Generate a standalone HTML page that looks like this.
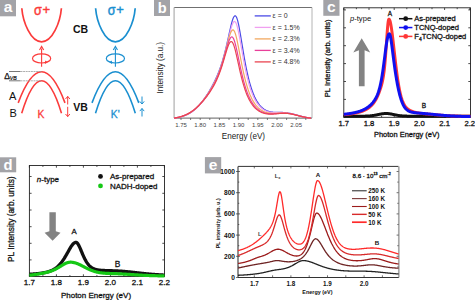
<!DOCTYPE html>
<html><head><meta charset="utf-8"><style>
html,body{margin:0;padding:0;background:#fff;width:475px;height:300px;overflow:hidden}
svg{display:block}
text{font-family:"Liberation Sans",sans-serif}
.h{stroke:#111;stroke-width:0.28px}
</style></head><body>
<svg width="475" height="300" viewBox="0 0 475 300">
<rect width="475" height="300" fill="#fff"/>
<rect x="0" y="0" width="16" height="16.3" fill="#a3a3a7"/>
<text x="8" y="12.4" font-size="15.5" fill="#fff" font-weight="bold" text-anchor="middle"  >a</text>
<path d="M21.8,8.3 C22.900000000000002,22 30.6,41.8 41.6,41.8 C52.6,41.8 60.3,22 61.400000000000006,8.3" fill="none" stroke="#fb3b3b" stroke-width="1.7"/>
<text x="34.0" y="14.9" font-size="14.5" fill="#fb3b3b" font-weight="normal" text-anchor="start" textLength="7.8" lengthAdjust="spacingAndGlyphs" stroke="#fb3b3b" stroke-width="0.45" >σ</text>
<text x="42.4" y="14.0" font-size="13" fill="#fb3b3b" font-weight="normal" text-anchor="start" stroke="#fb3b3b" stroke-width="0.4" >+</text>
<line x1="41.6" y1="48.5" x2="41.6" y2="66.8" stroke="#fb3b3b" stroke-width="1.1"/>
<path d="M39.5,50 L41.6,46.4 L43.7,50" fill="none" stroke="#fb3b3b" stroke-width="1.1"/>
<ellipse cx="41.6" cy="58.4" rx="9.1" ry="4.6" fill="none" stroke="#fb3b3b" stroke-width="1.2"/>
<path d="M45.1,60.6 L47.800000000000004,62.3 L45.1,64" fill="#fb3b3b"/>
<path d="M18.200000000000003,102.9 Q41.6,40.7 65.0,102.9" fill="none" stroke="#fb3b3b" stroke-width="1.6"/>
<path d="M21.700000000000003,113.3 Q41.6,48.3 61.5,113.3" fill="none" stroke="#fb3b3b" stroke-width="1.6"/>
<path d="M95.60000000000001,8.3 C96.7,22 104.4,41.8 115.4,41.8 C126.4,41.8 134.1,22 135.20000000000002,8.3" fill="none" stroke="#1a8fd0" stroke-width="1.7"/>
<text x="107.80000000000001" y="14.9" font-size="14.5" fill="#1a8fd0" font-weight="normal" text-anchor="start" textLength="7.8" lengthAdjust="spacingAndGlyphs" stroke="#1a8fd0" stroke-width="0.45" >σ</text>
<text x="116.2" y="14.0" font-size="13" fill="#1a8fd0" font-weight="normal" text-anchor="start" stroke="#1a8fd0" stroke-width="0.4" >+</text>
<line x1="115.4" y1="48.5" x2="115.4" y2="66.8" stroke="#1a8fd0" stroke-width="1.1"/>
<path d="M113.30000000000001,50 L115.4,46.4 L117.5,50" fill="none" stroke="#1a8fd0" stroke-width="1.1"/>
<ellipse cx="115.4" cy="58.4" rx="9.1" ry="4.6" fill="none" stroke="#1a8fd0" stroke-width="1.2"/>
<path d="M111.9,60.6 L109.2,62.3 L111.9,64" fill="#1a8fd0"/>
<path d="M92.0,102.9 Q115.4,40.7 138.8,102.9" fill="none" stroke="#1a8fd0" stroke-width="1.6"/>
<path d="M95.5,113.3 Q115.4,48.3 135.3,113.3" fill="none" stroke="#1a8fd0" stroke-width="1.6"/>
<line x1="9" y1="71.5" x2="20.5" y2="71.5" stroke="#555" stroke-width="0.8"/>
<line x1="20.5" y1="71.5" x2="41.8" y2="71.5" stroke="#9a9a9a" stroke-width="0.8" stroke-dasharray="2,0.6"/>
<line x1="9" y1="80.8" x2="20.5" y2="80.8" stroke="#555" stroke-width="0.8"/>
<line x1="20.5" y1="80.8" x2="41.8" y2="80.8" stroke="#9a9a9a" stroke-width="0.8" stroke-dasharray="2,0.6"/>
<text x="4.2" y="78.6" font-size="8.4" fill="#111" font-weight="normal" text-anchor="start" stroke="#111" stroke-width="0.25" >Δ</text>
<text x="9.7" y="79.8" font-size="5.2" fill="#111" font-weight="normal" text-anchor="start" stroke="#111" stroke-width="0.2" font-style="italic">VB</text>
<text x="9.0" y="100.3" font-size="11" fill="#111" font-weight="normal" text-anchor="start"  >A</text>
<text x="9.4" y="116.9" font-size="11" fill="#111" font-weight="normal" text-anchor="start"  >B</text>
<text x="37.5" y="118.4" font-size="10.3" fill="#fb3b3b" font-weight="normal" text-anchor="start" stroke="#fb3b3b" stroke-width="0.3" >K</text>
<text x="110.8" y="118.1" font-size="10.3" fill="#1a8fd0" font-weight="normal" text-anchor="start" stroke="#1a8fd0" stroke-width="0.3" >K'</text>
<text x="73" y="32.9" font-size="10.5" fill="#111" font-weight="bold" text-anchor="start"  >CB</text>
<text x="73.2" y="111.4" font-size="10.5" fill="#111" font-weight="bold" text-anchor="start"  >VB</text>
<line x1="67.7" y1="104.5" x2="67.7" y2="96.4" stroke="#fb3b3b" stroke-width="1"/>
<path d="M65.5,99.0 L67.7,96.4 L69.9,99.0" fill="none" stroke="#fb3b3b" stroke-width="1"/>
<line x1="67.7" y1="106.8" x2="67.7" y2="116.6" stroke="#fb3b3b" stroke-width="1"/>
<path d="M65.5,114.0 L67.7,116.6 L69.9,114.0" fill="none" stroke="#fb3b3b" stroke-width="1"/>
<line x1="142" y1="96.5" x2="142" y2="104" stroke="#1a8fd0" stroke-width="1"/>
<path d="M139.8,101.4 L142,104 L144.2,101.4" fill="none" stroke="#1a8fd0" stroke-width="1"/>
<line x1="142" y1="116.5" x2="142" y2="108.5" stroke="#1a8fd0" stroke-width="1"/>
<path d="M139.8,111.1 L142,108.5 L144.2,111.1" fill="none" stroke="#1a8fd0" stroke-width="1"/>
<rect x="154" y="0" width="16" height="16" fill="#a3a3a7"/>
<text x="162.1" y="13.1" font-size="14.6" fill="#fff" font-weight="bold" text-anchor="middle"  >b</text>
<line x1="174.1" y1="7.5" x2="312" y2="7.5" stroke="#707070" stroke-width="1"/>
<line x1="174.1" y1="7.5" x2="174.1" y2="118.1" stroke="#b4b4b4" stroke-width="1.3"/>
<line x1="312" y1="7.5" x2="312" y2="118.1" stroke="#b4b4b4" stroke-width="1"/>
<line x1="174.1" y1="118.1" x2="312" y2="118.1" stroke="#606060" stroke-width="1"/>
<line x1="181.00" y1="118.1" x2="181.00" y2="120" stroke="#555" stroke-width="0.8"/>
<line x1="190.60" y1="118.1" x2="190.60" y2="120" stroke="#555" stroke-width="0.8"/>
<line x1="200.20" y1="118.1" x2="200.20" y2="120" stroke="#555" stroke-width="0.8"/>
<line x1="209.80" y1="118.1" x2="209.80" y2="120" stroke="#555" stroke-width="0.8"/>
<line x1="219.40" y1="118.1" x2="219.40" y2="120" stroke="#555" stroke-width="0.8"/>
<line x1="229.00" y1="118.1" x2="229.00" y2="120" stroke="#555" stroke-width="0.8"/>
<line x1="238.60" y1="118.1" x2="238.60" y2="120" stroke="#555" stroke-width="0.8"/>
<line x1="248.20" y1="118.1" x2="248.20" y2="120" stroke="#555" stroke-width="0.8"/>
<line x1="257.80" y1="118.1" x2="257.80" y2="120" stroke="#555" stroke-width="0.8"/>
<line x1="267.40" y1="118.1" x2="267.40" y2="120" stroke="#555" stroke-width="0.8"/>
<line x1="277.00" y1="118.1" x2="277.00" y2="120" stroke="#555" stroke-width="0.8"/>
<line x1="286.60" y1="118.1" x2="286.60" y2="120" stroke="#555" stroke-width="0.8"/>
<line x1="296.20" y1="118.1" x2="296.20" y2="120" stroke="#555" stroke-width="0.8"/>
<line x1="305.80" y1="118.1" x2="305.80" y2="120" stroke="#555" stroke-width="0.8"/>
<text x="181.00" y="127" font-size="6" fill="#444" font-weight="normal" text-anchor="middle"  >1.75</text>
<text x="200.20" y="127" font-size="6" fill="#444" font-weight="normal" text-anchor="middle"  >1.80</text>
<text x="219.40" y="127" font-size="6" fill="#444" font-weight="normal" text-anchor="middle"  >1.85</text>
<text x="238.60" y="127" font-size="6" fill="#444" font-weight="normal" text-anchor="middle"  >1.90</text>
<text x="257.80" y="127" font-size="6" fill="#444" font-weight="normal" text-anchor="middle"  >1.95</text>
<text x="277.00" y="127" font-size="6" fill="#444" font-weight="normal" text-anchor="middle"  >2.00</text>
<text x="296.20" y="127" font-size="6" fill="#444" font-weight="normal" text-anchor="middle"  >2.05</text>
<text x="243.4" y="138.9" font-size="8.2" fill="#222" font-weight="normal" text-anchor="middle" textLength="43.3" lengthAdjust="spacingAndGlyphs"  >Energy (eV)</text>
<text transform="translate(162.6,67.8) rotate(-90)" x="0" y="0" font-size="8.3" fill="#222" text-anchor="middle" textLength="51.5" lengthAdjust="spacingAndGlyphs">Intensity (a.u.)</text>
<path d="M174.10,118.10 L174.56,118.04 L175.02,117.97 L175.47,117.90 L175.93,117.83 L176.39,117.75 L176.85,117.67 L177.31,117.59 L177.76,117.50 L178.22,117.41 L178.68,117.32 L179.14,117.22 L179.59,117.11 L180.05,117.00 L180.51,116.89 L180.97,116.77 L181.43,116.64 L181.88,116.51 L182.34,116.37 L182.80,116.23 L183.26,116.08 L183.72,115.93 L184.17,115.76 L184.63,115.59 L185.09,115.42 L185.55,115.23 L186.00,115.04 L186.46,114.84 L186.92,114.63 L187.38,114.41 L187.84,114.18 L188.29,113.95 L188.75,113.70 L189.21,113.45 L189.67,113.19 L190.13,112.91 L190.58,112.63 L191.04,112.33 L191.50,112.03 L191.96,111.71 L192.41,111.38 L192.87,111.05 L193.33,110.70 L193.79,110.34 L194.25,109.97 L194.70,109.58 L195.16,109.19 L195.62,108.78 L196.08,108.36 L196.54,107.93 L196.99,107.48 L197.45,107.03 L197.91,106.56 L198.37,106.08 L198.82,105.58 L199.28,105.08 L199.74,104.56 L200.20,104.03 L200.66,103.49 L201.11,102.94 L201.57,102.37 L202.03,101.79 L202.49,101.20 L202.95,100.60 L203.40,99.99 L203.86,99.36 L204.32,98.72 L204.78,98.08 L205.23,97.42 L205.69,96.74 L206.15,96.06 L206.61,95.37 L207.07,94.66 L207.52,93.95 L207.98,93.22 L208.44,92.48 L208.90,91.73 L209.36,90.97 L209.81,90.19 L210.27,89.40 L210.73,88.60 L211.19,87.79 L211.64,86.96 L212.10,86.12 L212.56,85.27 L213.02,84.40 L213.48,83.51 L213.93,82.60 L214.39,81.68 L214.85,80.74 L215.31,79.78 L215.77,78.79 L216.22,77.79 L216.68,76.76 L217.14,75.70 L217.60,74.61 L218.05,73.50 L218.51,72.35 L218.97,71.17 L219.43,69.96 L219.89,68.71 L220.34,67.42 L220.80,66.09 L221.26,64.72 L221.72,63.30 L222.18,61.84 L222.63,60.33 L223.09,58.77 L223.55,57.16 L224.01,55.49 L224.46,53.78 L224.92,52.01 L225.38,50.19 L225.84,48.32 L226.30,46.40 L226.75,44.44 L227.21,42.44 L227.67,40.40 L228.13,38.34 L228.59,36.26 L229.04,34.17 L229.50,32.09 L229.96,30.04 L230.42,28.04 L230.87,26.09 L231.33,24.24 L231.79,22.51 L232.25,20.91 L232.71,19.49 L233.16,18.26 L233.62,17.25 L234.08,16.50 L234.54,16.01 L235.00,15.80 L235.45,15.90 L235.91,16.29 L236.37,17.00 L236.83,18.03 L237.28,19.35 L237.74,20.94 L238.20,22.79 L238.66,24.86 L239.12,27.13 L239.57,29.55 L240.03,32.11 L240.49,34.77 L240.95,37.49 L241.41,40.27 L241.86,43.06 L242.32,45.86 L242.78,48.64 L243.24,51.39 L243.69,54.09 L244.15,56.74 L244.61,59.32 L245.07,61.83 L245.53,64.27 L245.98,66.63 L246.44,68.91 L246.90,71.11 L247.36,73.22 L247.82,75.25 L248.27,77.20 L248.73,79.07 L249.19,80.86 L249.65,82.57 L250.10,84.21 L250.56,85.77 L251.02,87.26 L251.48,88.68 L251.94,90.03 L252.39,91.32 L252.85,92.55 L253.31,93.72 L253.77,94.83 L254.23,95.89 L254.68,96.90 L255.14,97.85 L255.60,98.76 L256.06,99.62 L256.51,100.44 L256.97,101.21 L257.43,101.95 L257.89,102.64 L258.35,103.31 L258.80,103.93 L259.26,104.52 L259.72,105.09 L260.18,105.62 L260.64,106.12 L261.09,106.59 L261.55,107.04 L262.01,107.46 L262.47,107.86 L262.92,108.24 L263.38,108.59 L263.84,108.92 L264.30,109.23 L264.76,109.52 L265.21,109.79 L265.67,110.05 L266.13,110.29 L266.59,110.51 L267.05,110.71 L267.50,110.90 L267.96,111.07 L268.42,111.23 L268.88,111.38 L269.33,111.51 L269.79,111.64 L270.25,111.75 L270.71,111.84 L271.17,111.93 L271.62,112.01 L272.08,112.08 L272.54,112.14 L273.00,112.20 L273.46,112.24 L273.91,112.28 L274.37,112.31 L274.83,112.34 L275.29,112.36 L275.74,112.38 L276.20,112.39 L276.66,112.40 L277.12,112.41 L277.58,112.41 L278.03,112.42 L278.49,112.42 L278.95,112.42 L279.41,112.42 L279.87,112.43 L280.32,112.43 L280.78,112.43 L281.24,112.44 L281.70,112.45 L282.15,112.46 L282.61,112.47 L283.07,112.49 L283.53,112.51 L283.99,112.54 L284.44,112.57 L284.90,112.60 L285.36,112.64 L285.82,112.69 L286.28,112.74 L286.73,112.79 L287.19,112.85 L287.65,112.91 L288.11,112.98 L288.56,113.06 L289.02,113.13 L289.48,113.22 L289.94,113.31 L290.40,113.40 L290.85,113.50 L291.31,113.60 L291.77,113.71 L292.23,113.82 L292.69,113.93 L293.14,114.05 L293.60,114.16 L294.06,114.29 L294.52,114.41 L294.97,114.54 L295.43,114.66 L295.89,114.79 L296.35,114.92 L296.81,115.05 L297.26,115.18 L297.72,115.31 L298.18,115.44 L298.64,115.57 L299.10,115.70 L299.55,115.83 L300.01,115.95 L300.47,116.08 L300.93,116.20 L301.38,116.32 L301.84,116.44 L302.30,116.55 L302.76,116.67 L303.22,116.78 L303.67,116.88 L304.13,116.99 L304.59,117.09 L305.05,117.19 L305.51,117.28 L305.96,117.37 L306.42,117.46 L306.88,117.54 L307.34,117.63 L307.79,117.70 L308.25,117.78 L308.71,117.85 L309.17,117.92 L309.63,117.98 L310.08,118.05 L310.54,118.10 L311.00,118.10" fill="none" stroke="#4b4be6" stroke-width="1.2"/>
<path d="M174.10,118.10 L174.56,118.04 L175.02,117.97 L175.47,117.90 L175.93,117.83 L176.39,117.75 L176.85,117.67 L177.31,117.59 L177.76,117.50 L178.22,117.41 L178.68,117.31 L179.14,117.21 L179.59,117.11 L180.05,117.00 L180.51,116.88 L180.97,116.76 L181.43,116.64 L181.88,116.51 L182.34,116.37 L182.80,116.23 L183.26,116.08 L183.72,115.92 L184.17,115.76 L184.63,115.59 L185.09,115.41 L185.55,115.23 L186.00,115.04 L186.46,114.84 L186.92,114.63 L187.38,114.41 L187.84,114.19 L188.29,113.96 L188.75,113.71 L189.21,113.46 L189.67,113.20 L190.13,112.93 L190.58,112.65 L191.04,112.36 L191.50,112.05 L191.96,111.74 L192.41,111.42 L192.87,111.09 L193.33,110.74 L193.79,110.39 L194.25,110.02 L194.70,109.65 L195.16,109.26 L195.62,108.86 L196.08,108.45 L196.54,108.03 L196.99,107.59 L197.45,107.15 L197.91,106.69 L198.37,106.22 L198.82,105.74 L199.28,105.25 L199.74,104.74 L200.20,104.23 L200.66,103.70 L201.11,103.16 L201.57,102.62 L202.03,102.05 L202.49,101.48 L202.95,100.90 L203.40,100.31 L203.86,99.70 L204.32,99.09 L204.78,98.46 L205.23,97.82 L205.69,97.18 L206.15,96.52 L206.61,95.85 L207.07,95.17 L207.52,94.48 L207.98,93.78 L208.44,93.06 L208.90,92.34 L209.36,91.60 L209.81,90.86 L210.27,90.10 L210.73,89.33 L211.19,88.54 L211.64,87.74 L212.10,86.93 L212.56,86.10 L213.02,85.26 L213.48,84.40 L213.93,83.53 L214.39,82.63 L214.85,81.72 L215.31,80.78 L215.77,79.83 L216.22,78.84 L216.68,77.84 L217.14,76.81 L217.60,75.75 L218.05,74.66 L218.51,73.53 L218.97,72.38 L219.43,71.19 L219.89,69.96 L220.34,68.69 L220.80,67.39 L221.26,66.04 L221.72,64.64 L222.18,63.20 L222.63,61.72 L223.09,60.18 L223.55,58.60 L224.01,56.97 L224.46,55.28 L224.92,53.55 L225.38,51.77 L225.84,49.95 L226.30,48.08 L226.75,46.18 L227.21,44.25 L227.67,42.30 L228.13,40.33 L228.59,38.36 L229.04,36.40 L229.50,34.47 L229.96,32.59 L230.42,30.77 L230.87,29.05 L231.33,27.44 L231.79,25.97 L232.25,24.67 L232.71,23.56 L233.16,22.67 L233.62,22.02 L234.08,21.62 L234.54,21.50 L235.00,21.66 L235.45,22.11 L235.91,22.86 L236.37,23.90 L236.83,25.21 L237.28,26.78 L237.74,28.59 L238.20,30.59 L238.66,32.77 L239.12,35.10 L239.57,37.54 L240.03,40.07 L240.49,42.66 L240.95,45.29 L241.41,47.93 L241.86,50.57 L242.32,53.19 L242.78,55.78 L243.24,58.32 L243.69,60.80 L244.15,63.23 L244.61,65.58 L245.07,67.87 L245.53,70.08 L245.98,72.21 L246.44,74.27 L246.90,76.24 L247.36,78.14 L247.82,79.96 L248.27,81.71 L248.73,83.38 L249.19,84.98 L249.65,86.51 L250.10,87.97 L250.56,89.36 L251.02,90.69 L251.48,91.95 L251.94,93.15 L252.39,94.30 L252.85,95.39 L253.31,96.43 L253.77,97.42 L254.23,98.35 L254.68,99.24 L255.14,100.09 L255.60,100.89 L256.06,101.66 L256.51,102.38 L256.97,103.07 L257.43,103.72 L257.89,104.33 L258.35,104.92 L258.80,105.47 L259.26,105.99 L259.72,106.49 L260.18,106.96 L260.64,107.40 L261.09,107.82 L261.55,108.21 L262.01,108.58 L262.47,108.93 L262.92,109.26 L263.38,109.57 L263.84,109.86 L264.30,110.13 L264.76,110.38 L265.21,110.61 L265.67,110.83 L266.13,111.04 L266.59,111.23 L267.05,111.40 L267.50,111.56 L267.96,111.71 L268.42,111.84 L268.88,111.96 L269.33,112.07 L269.79,112.17 L270.25,112.26 L270.71,112.34 L271.17,112.40 L271.62,112.46 L272.08,112.52 L272.54,112.56 L273.00,112.60 L273.46,112.63 L273.91,112.65 L274.37,112.67 L274.83,112.68 L275.29,112.69 L275.74,112.69 L276.20,112.69 L276.66,112.69 L277.12,112.69 L277.58,112.68 L278.03,112.67 L278.49,112.67 L278.95,112.66 L279.41,112.65 L279.87,112.65 L280.32,112.64 L280.78,112.64 L281.24,112.64 L281.70,112.64 L282.15,112.64 L282.61,112.65 L283.07,112.66 L283.53,112.68 L283.99,112.70 L284.44,112.72 L284.90,112.75 L285.36,112.78 L285.82,112.82 L286.28,112.87 L286.73,112.91 L287.19,112.97 L287.65,113.03 L288.11,113.09 L288.56,113.16 L289.02,113.24 L289.48,113.32 L289.94,113.40 L290.40,113.49 L290.85,113.59 L291.31,113.69 L291.77,113.79 L292.23,113.89 L292.69,114.00 L293.14,114.12 L293.60,114.23 L294.06,114.35 L294.52,114.47 L294.97,114.60 L295.43,114.72 L295.89,114.85 L296.35,114.97 L296.81,115.10 L297.26,115.23 L297.72,115.36 L298.18,115.49 L298.64,115.61 L299.10,115.74 L299.55,115.87 L300.01,115.99 L300.47,116.11 L300.93,116.23 L301.38,116.35 L301.84,116.47 L302.30,116.58 L302.76,116.69 L303.22,116.80 L303.67,116.91 L304.13,117.01 L304.59,117.11 L305.05,117.20 L305.51,117.30 L305.96,117.39 L306.42,117.47 L306.88,117.56 L307.34,117.64 L307.79,117.71 L308.25,117.79 L308.71,117.86 L309.17,117.92 L309.63,117.99 L310.08,118.05 L310.54,118.10 L311.00,118.10" fill="none" stroke="#f0a0f0" stroke-width="1.2"/>
<path d="M174.10,118.10 L174.56,118.03 L175.02,117.96 L175.47,117.88 L175.93,117.80 L176.39,117.72 L176.85,117.64 L177.31,117.55 L177.76,117.45 L178.22,117.35 L178.68,117.25 L179.14,117.14 L179.59,117.03 L180.05,116.91 L180.51,116.79 L180.97,116.66 L181.43,116.52 L181.88,116.38 L182.34,116.24 L182.80,116.08 L183.26,115.92 L183.72,115.76 L184.17,115.59 L184.63,115.41 L185.09,115.22 L185.55,115.02 L186.00,114.82 L186.46,114.61 L186.92,114.39 L187.38,114.16 L187.84,113.93 L188.29,113.68 L188.75,113.43 L189.21,113.17 L189.67,112.90 L190.13,112.62 L190.58,112.32 L191.04,112.02 L191.50,111.71 L191.96,111.39 L192.41,111.06 L192.87,110.72 L193.33,110.37 L193.79,110.01 L194.25,109.64 L194.70,109.26 L195.16,108.86 L195.62,108.46 L196.08,108.05 L196.54,107.62 L196.99,107.19 L197.45,106.74 L197.91,106.29 L198.37,105.82 L198.82,105.34 L199.28,104.85 L199.74,104.36 L200.20,103.85 L200.66,103.33 L201.11,102.80 L201.57,102.26 L202.03,101.71 L202.49,101.15 L202.95,100.58 L203.40,100.01 L203.86,99.42 L204.32,98.82 L204.78,98.21 L205.23,97.59 L205.69,96.97 L206.15,96.33 L206.61,95.68 L207.07,95.02 L207.52,94.36 L207.98,93.68 L208.44,92.99 L208.90,92.29 L209.36,91.57 L209.81,90.85 L210.27,90.11 L210.73,89.36 L211.19,88.60 L211.64,87.82 L212.10,87.02 L212.56,86.21 L213.02,85.38 L213.48,84.54 L213.93,83.67 L214.39,82.78 L214.85,81.87 L215.31,80.94 L215.77,79.98 L216.22,79.00 L216.68,77.99 L217.14,76.94 L217.60,75.87 L218.05,74.76 L218.51,73.62 L218.97,72.44 L219.43,71.23 L219.89,69.97 L220.34,68.67 L220.80,67.33 L221.26,65.95 L221.72,64.52 L222.18,63.05 L222.63,61.53 L223.09,59.97 L223.55,58.36 L224.01,56.71 L224.46,55.02 L224.92,53.30 L225.38,51.54 L225.84,49.76 L226.30,47.97 L226.75,46.16 L227.21,44.37 L227.67,42.59 L228.13,40.84 L228.59,39.15 L229.04,37.53 L229.50,36.01 L229.96,34.60 L230.42,33.34 L230.87,32.24 L231.33,31.33 L231.79,30.62 L232.25,30.15 L232.71,29.92 L233.16,29.94 L233.62,30.23 L234.08,30.79 L234.54,31.61 L235.00,32.70 L235.45,34.03 L235.91,35.58 L236.37,37.33 L236.83,39.25 L237.28,41.32 L237.74,43.51 L238.20,45.78 L238.66,48.13 L239.12,50.52 L239.57,52.93 L240.03,55.35 L240.49,57.75 L240.95,60.13 L241.41,62.47 L241.86,64.77 L242.32,67.01 L242.78,69.20 L243.24,71.32 L243.69,73.37 L244.15,75.35 L244.61,77.26 L245.07,79.11 L245.53,80.88 L245.98,82.58 L246.44,84.20 L246.90,85.76 L247.36,87.26 L247.82,88.68 L248.27,90.05 L248.73,91.35 L249.19,92.59 L249.65,93.77 L250.10,94.90 L250.56,95.98 L251.02,97.00 L251.48,97.97 L251.94,98.90 L252.39,99.78 L252.85,100.61 L253.31,101.41 L253.77,102.16 L254.23,102.88 L254.68,103.56 L255.14,104.20 L255.60,104.82 L256.06,105.40 L256.51,105.95 L256.97,106.47 L257.43,106.96 L257.89,107.43 L258.35,107.88 L258.80,108.30 L259.26,108.69 L259.72,109.07 L260.18,109.42 L260.64,109.75 L261.09,110.07 L261.55,110.36 L262.01,110.64 L262.47,110.90 L262.92,111.14 L263.38,111.37 L263.84,111.58 L264.30,111.77 L264.76,111.96 L265.21,112.13 L265.67,112.28 L266.13,112.42 L266.59,112.55 L267.05,112.67 L267.50,112.78 L267.96,112.87 L268.42,112.96 L268.88,113.04 L269.33,113.10 L269.79,113.16 L270.25,113.21 L270.71,113.25 L271.17,113.28 L271.62,113.30 L272.08,113.32 L272.54,113.33 L273.00,113.34 L273.46,113.34 L273.91,113.33 L274.37,113.32 L274.83,113.31 L275.29,113.29 L275.74,113.27 L276.20,113.25 L276.66,113.23 L277.12,113.21 L277.58,113.18 L278.03,113.15 L278.49,113.13 L278.95,113.10 L279.41,113.08 L279.87,113.06 L280.32,113.04 L280.78,113.02 L281.24,113.00 L281.70,112.99 L282.15,112.98 L282.61,112.98 L283.07,112.98 L283.53,112.98 L283.99,112.99 L284.44,113.00 L284.90,113.02 L285.36,113.05 L285.82,113.08 L286.28,113.11 L286.73,113.15 L287.19,113.20 L287.65,113.25 L288.11,113.30 L288.56,113.37 L289.02,113.43 L289.48,113.51 L289.94,113.59 L290.40,113.67 L290.85,113.76 L291.31,113.85 L291.77,113.94 L292.23,114.05 L292.69,114.15 L293.14,114.26 L293.60,114.37 L294.06,114.48 L294.52,114.60 L294.97,114.71 L295.43,114.83 L295.89,114.96 L296.35,115.08 L296.81,115.20 L297.26,115.33 L297.72,115.45 L298.18,115.57 L298.64,115.70 L299.10,115.82 L299.55,115.94 L300.01,116.06 L300.47,116.18 L300.93,116.30 L301.38,116.41 L301.84,116.52 L302.30,116.63 L302.76,116.74 L303.22,116.85 L303.67,116.95 L304.13,117.05 L304.59,117.14 L305.05,117.24 L305.51,117.33 L305.96,117.41 L306.42,117.50 L306.88,117.58 L307.34,117.65 L307.79,117.73 L308.25,117.80 L308.71,117.87 L309.17,117.93 L309.63,117.99 L310.08,118.05 L310.54,118.10 L311.00,118.10" fill="none" stroke="#f2a860" stroke-width="1.2"/>
<path d="M174.10,118.10 L174.56,118.03 L175.02,117.95 L175.47,117.88 L175.93,117.79 L176.39,117.71 L176.85,117.62 L177.31,117.53 L177.76,117.43 L178.22,117.33 L178.68,117.22 L179.14,117.11 L179.59,116.99 L180.05,116.87 L180.51,116.74 L180.97,116.61 L181.43,116.47 L181.88,116.33 L182.34,116.18 L182.80,116.02 L183.26,115.86 L183.72,115.69 L184.17,115.52 L184.63,115.33 L185.09,115.14 L185.55,114.95 L186.00,114.74 L186.46,114.53 L186.92,114.31 L187.38,114.08 L187.84,113.84 L188.29,113.59 L188.75,113.34 L189.21,113.07 L189.67,112.80 L190.13,112.52 L190.58,112.23 L191.04,111.93 L191.50,111.62 L191.96,111.30 L192.41,110.98 L192.87,110.64 L193.33,110.29 L193.79,109.93 L194.25,109.57 L194.70,109.19 L195.16,108.81 L195.62,108.41 L196.08,108.00 L196.54,107.59 L196.99,107.16 L197.45,106.73 L197.91,106.28 L198.37,105.83 L198.82,105.37 L199.28,104.89 L199.74,104.41 L200.20,103.92 L200.66,103.42 L201.11,102.91 L201.57,102.39 L202.03,101.86 L202.49,101.32 L202.95,100.77 L203.40,100.22 L203.86,99.65 L204.32,99.08 L204.78,98.50 L205.23,97.91 L205.69,97.30 L206.15,96.69 L206.61,96.07 L207.07,95.44 L207.52,94.80 L207.98,94.15 L208.44,93.49 L208.90,92.82 L209.36,92.13 L209.81,91.43 L210.27,90.72 L210.73,90.00 L211.19,89.26 L211.64,88.50 L212.10,87.73 L212.56,86.94 L213.02,86.14 L213.48,85.31 L213.93,84.46 L214.39,83.59 L214.85,82.70 L215.31,81.78 L215.77,80.83 L216.22,79.86 L216.68,78.86 L217.14,77.82 L217.60,76.75 L218.05,75.65 L218.51,74.52 L218.97,73.34 L219.43,72.13 L219.89,70.88 L220.34,69.58 L220.80,68.25 L221.26,66.87 L221.72,65.45 L222.18,64.00 L222.63,62.50 L223.09,60.96 L223.55,59.39 L224.01,57.79 L224.46,56.16 L224.92,54.51 L225.38,52.85 L225.84,51.19 L226.30,49.54 L226.75,47.91 L227.21,46.32 L227.67,44.78 L228.13,43.33 L228.59,41.97 L229.04,40.72 L229.50,39.62 L229.96,38.67 L230.42,37.91 L230.87,37.36 L231.33,37.01 L231.79,36.90 L232.25,37.02 L232.71,37.39 L233.16,38.01 L233.62,38.88 L234.08,39.98 L234.54,41.29 L235.00,42.80 L235.45,44.49 L235.91,46.32 L236.37,48.27 L236.83,50.33 L237.28,52.46 L237.74,54.64 L238.20,56.85 L238.66,59.08 L239.12,61.30 L239.57,63.51 L240.03,65.69 L240.49,67.83 L240.95,69.93 L241.41,71.97 L241.86,73.96 L242.32,75.89 L242.78,77.75 L243.24,79.55 L243.69,81.29 L244.15,82.96 L244.61,84.56 L245.07,86.10 L245.53,87.57 L245.98,88.98 L246.44,90.33 L246.90,91.62 L247.36,92.86 L247.82,94.03 L248.27,95.15 L248.73,96.22 L249.19,97.24 L249.65,98.21 L250.10,99.13 L250.56,100.01 L251.02,100.85 L251.48,101.64 L251.94,102.39 L252.39,103.11 L252.85,103.79 L253.31,104.44 L253.77,105.05 L254.23,105.64 L254.68,106.19 L255.14,106.72 L255.60,107.21 L256.06,107.69 L256.51,108.13 L256.97,108.56 L257.43,108.96 L257.89,109.34 L258.35,109.70 L258.80,110.03 L259.26,110.35 L259.72,110.66 L260.18,110.94 L260.64,111.21 L261.09,111.46 L261.55,111.69 L262.01,111.91 L262.47,112.12 L262.92,112.31 L263.38,112.48 L263.84,112.65 L264.30,112.80 L264.76,112.94 L265.21,113.07 L265.67,113.18 L266.13,113.29 L266.59,113.38 L267.05,113.47 L267.50,113.54 L267.96,113.61 L268.42,113.66 L268.88,113.71 L269.33,113.75 L269.79,113.78 L270.25,113.80 L270.71,113.82 L271.17,113.83 L271.62,113.83 L272.08,113.83 L272.54,113.82 L273.00,113.81 L273.46,113.79 L273.91,113.77 L274.37,113.74 L274.83,113.71 L275.29,113.68 L275.74,113.65 L276.20,113.61 L276.66,113.57 L277.12,113.54 L277.58,113.50 L278.03,113.46 L278.49,113.43 L278.95,113.39 L279.41,113.35 L279.87,113.32 L280.32,113.29 L280.78,113.27 L281.24,113.24 L281.70,113.22 L282.15,113.20 L282.61,113.19 L283.07,113.18 L283.53,113.18 L283.99,113.18 L284.44,113.19 L284.90,113.20 L285.36,113.22 L285.82,113.24 L286.28,113.27 L286.73,113.31 L287.19,113.35 L287.65,113.39 L288.11,113.44 L288.56,113.50 L289.02,113.56 L289.48,113.63 L289.94,113.71 L290.40,113.78 L290.85,113.87 L291.31,113.96 L291.77,114.05 L292.23,114.14 L292.69,114.24 L293.14,114.35 L293.60,114.46 L294.06,114.57 L294.52,114.68 L294.97,114.79 L295.43,114.91 L295.89,115.03 L296.35,115.15 L296.81,115.27 L297.26,115.39 L297.72,115.51 L298.18,115.63 L298.64,115.75 L299.10,115.87 L299.55,115.99 L300.01,116.11 L300.47,116.22 L300.93,116.34 L301.38,116.45 L301.84,116.56 L302.30,116.67 L302.76,116.77 L303.22,116.88 L303.67,116.98 L304.13,117.07 L304.59,117.17 L305.05,117.26 L305.51,117.35 L305.96,117.43 L306.42,117.51 L306.88,117.59 L307.34,117.67 L307.79,117.74 L308.25,117.81 L308.71,117.87 L309.17,117.93 L309.63,117.99 L310.08,118.05 L310.54,118.10 L311.00,118.10" fill="none" stroke="#e8409a" stroke-width="1.2"/>
<path d="M174.10,118.10 L174.56,118.03 L175.02,117.95 L175.47,117.88 L175.93,117.79 L176.39,117.71 L176.85,117.62 L177.31,117.53 L177.76,117.43 L178.22,117.33 L178.68,117.22 L179.14,117.11 L179.59,116.99 L180.05,116.87 L180.51,116.74 L180.97,116.61 L181.43,116.47 L181.88,116.33 L182.34,116.18 L182.80,116.03 L183.26,115.87 L183.72,115.70 L184.17,115.52 L184.63,115.34 L185.09,115.15 L185.55,114.96 L186.00,114.75 L186.46,114.54 L186.92,114.32 L187.38,114.10 L187.84,113.86 L188.29,113.62 L188.75,113.37 L189.21,113.11 L189.67,112.84 L190.13,112.56 L190.58,112.28 L191.04,111.98 L191.50,111.68 L191.96,111.37 L192.41,111.05 L192.87,110.72 L193.33,110.38 L193.79,110.03 L194.25,109.67 L194.70,109.30 L195.16,108.93 L195.62,108.54 L196.08,108.15 L196.54,107.74 L196.99,107.33 L197.45,106.91 L197.91,106.48 L198.37,106.04 L198.82,105.59 L199.28,105.13 L199.74,104.66 L200.20,104.19 L200.66,103.70 L201.11,103.21 L201.57,102.71 L202.03,102.20 L202.49,101.68 L202.95,101.15 L203.40,100.62 L203.86,100.07 L204.32,99.52 L204.78,98.96 L205.23,98.39 L205.69,97.81 L206.15,97.22 L206.61,96.62 L207.07,96.02 L207.52,95.40 L207.98,94.77 L208.44,94.13 L208.90,93.48 L209.36,92.82 L209.81,92.15 L210.27,91.46 L210.73,90.76 L211.19,90.04 L211.64,89.31 L212.10,88.56 L212.56,87.79 L213.02,87.01 L213.48,86.20 L213.93,85.37 L214.39,84.52 L214.85,83.65 L215.31,82.75 L215.77,81.82 L216.22,80.87 L216.68,79.88 L217.14,78.87 L217.60,77.82 L218.05,76.74 L218.51,75.62 L218.97,74.46 L219.43,73.27 L219.89,72.04 L220.34,70.77 L220.80,69.46 L221.26,68.11 L221.72,66.72 L222.18,65.30 L222.63,63.84 L223.09,62.35 L223.55,60.83 L224.01,59.28 L224.46,57.72 L224.92,56.16 L225.38,54.59 L225.84,53.04 L226.30,51.51 L226.75,50.02 L227.21,48.59 L227.67,47.24 L228.13,45.99 L228.59,44.85 L229.04,43.85 L229.50,43.01 L229.96,42.34 L230.42,41.87 L230.87,41.61 L231.33,41.56 L231.79,41.75 L232.25,42.16 L232.71,42.81 L233.16,43.69 L233.62,44.79 L234.08,46.08 L234.54,47.56 L235.00,49.19 L235.45,50.95 L235.91,52.83 L236.37,54.79 L236.83,56.81 L237.28,58.88 L237.74,60.97 L238.20,63.07 L238.66,65.17 L239.12,67.24 L239.57,69.29 L240.03,71.30 L240.49,73.26 L240.95,75.18 L241.41,77.04 L241.86,78.84 L242.32,80.58 L242.78,82.26 L243.24,83.88 L243.69,85.44 L244.15,86.93 L244.61,88.37 L245.07,89.74 L245.53,91.05 L245.98,92.31 L246.44,93.51 L246.90,94.66 L247.36,95.75 L247.82,96.80 L248.27,97.79 L248.73,98.74 L249.19,99.64 L249.65,100.50 L250.10,101.32 L250.56,102.10 L251.02,102.83 L251.48,103.54 L251.94,104.20 L252.39,104.84 L252.85,105.44 L253.31,106.01 L253.77,106.55 L254.23,107.07 L254.68,107.56 L255.14,108.02 L255.60,108.46 L256.06,108.87 L256.51,109.27 L256.97,109.64 L257.43,109.99 L257.89,110.33 L258.35,110.64 L258.80,110.94 L259.26,111.22 L259.72,111.48 L260.18,111.73 L260.64,111.97 L261.09,112.18 L261.55,112.39 L262.01,112.58 L262.47,112.75 L262.92,112.92 L263.38,113.07 L263.84,113.21 L264.30,113.34 L264.76,113.46 L265.21,113.56 L265.67,113.66 L266.13,113.74 L266.59,113.82 L267.05,113.89 L267.50,113.94 L267.96,113.99 L268.42,114.03 L268.88,114.07 L269.33,114.09 L269.79,114.11 L270.25,114.12 L270.71,114.12 L271.17,114.12 L271.62,114.11 L272.08,114.10 L272.54,114.08 L273.00,114.05 L273.46,114.03 L273.91,114.00 L274.37,113.96 L274.83,113.92 L275.29,113.89 L275.74,113.84 L276.20,113.80 L276.66,113.76 L277.12,113.71 L277.58,113.67 L278.03,113.63 L278.49,113.58 L278.95,113.54 L279.41,113.50 L279.87,113.46 L280.32,113.43 L280.78,113.40 L281.24,113.37 L281.70,113.34 L282.15,113.32 L282.61,113.31 L283.07,113.29 L283.53,113.29 L283.99,113.28 L284.44,113.29 L284.90,113.30 L285.36,113.31 L285.82,113.33 L286.28,113.36 L286.73,113.39 L287.19,113.43 L287.65,113.47 L288.11,113.52 L288.56,113.57 L289.02,113.63 L289.48,113.70 L289.94,113.77 L290.40,113.85 L290.85,113.93 L291.31,114.01 L291.77,114.10 L292.23,114.20 L292.69,114.30 L293.14,114.40 L293.60,114.50 L294.06,114.61 L294.52,114.72 L294.97,114.84 L295.43,114.95 L295.89,115.07 L296.35,115.18 L296.81,115.30 L297.26,115.42 L297.72,115.54 L298.18,115.66 L298.64,115.78 L299.10,115.90 L299.55,116.02 L300.01,116.13 L300.47,116.25 L300.93,116.36 L301.38,116.47 L301.84,116.58 L302.30,116.69 L302.76,116.79 L303.22,116.89 L303.67,116.99 L304.13,117.09 L304.59,117.18 L305.05,117.27 L305.51,117.36 L305.96,117.44 L306.42,117.52 L306.88,117.60 L307.34,117.67 L307.79,117.74 L308.25,117.81 L308.71,117.88 L309.17,117.94 L309.63,118.00 L310.08,118.05 L310.54,118.10 L311.00,118.10" fill="none" stroke="#ea4550" stroke-width="1.2"/>
<line x1="254.7" y1="15.9" x2="270.8" y2="15.9" stroke="#4b4be6" stroke-width="1.3"/>
<line x1="254.7" y1="27.4" x2="270.8" y2="27.4" stroke="#f0a0f0" stroke-width="1.3"/>
<line x1="254.7" y1="38.9" x2="270.8" y2="38.9" stroke="#f2a860" stroke-width="1.3"/>
<line x1="254.7" y1="50.4" x2="270.8" y2="50.4" stroke="#e8409a" stroke-width="1.3"/>
<line x1="254.7" y1="61.9" x2="270.8" y2="61.9" stroke="#ea4550" stroke-width="1.3"/>
<text x="272.6" y="18.2" font-size="7" fill="#333" font-weight="normal" text-anchor="start"  >ε = 0</text>
<text x="272.6" y="29.7" font-size="7" fill="#333" font-weight="normal" text-anchor="start"  >ε = 1.5%</text>
<text x="272.6" y="41.2" font-size="7" fill="#333" font-weight="normal" text-anchor="start"  >ε = 2.3%</text>
<text x="272.6" y="52.7" font-size="7" fill="#333" font-weight="normal" text-anchor="start"  >ε = 3.4%</text>
<text x="272.6" y="64.2" font-size="7" fill="#333" font-weight="normal" text-anchor="start"  >ε = 4.8%</text>
<rect x="323.3" y="0" width="16.2" height="15.8" fill="#a3a3a7"/>
<text x="331.4" y="12.2" font-size="15.5" fill="#fff" font-weight="bold" text-anchor="middle"  >c</text>
<rect x="343.8" y="7.8" width="126.7" height="109.5" fill="none" stroke="#222" stroke-width="0.9"/>
<line x1="343.80" y1="7.8" x2="343.80" y2="10.0" stroke="#222" stroke-width="0.8"/>
<line x1="343.80" y1="117.3" x2="343.80" y2="115.1" stroke="#222" stroke-width="0.8"/>
<line x1="356.40" y1="7.8" x2="356.40" y2="9.2" stroke="#222" stroke-width="0.8"/>
<line x1="356.40" y1="117.3" x2="356.40" y2="115.89999999999999" stroke="#222" stroke-width="0.8"/>
<line x1="369.00" y1="7.8" x2="369.00" y2="10.0" stroke="#222" stroke-width="0.8"/>
<line x1="369.00" y1="117.3" x2="369.00" y2="115.1" stroke="#222" stroke-width="0.8"/>
<line x1="381.60" y1="7.8" x2="381.60" y2="9.2" stroke="#222" stroke-width="0.8"/>
<line x1="381.60" y1="117.3" x2="381.60" y2="115.89999999999999" stroke="#222" stroke-width="0.8"/>
<line x1="394.20" y1="7.8" x2="394.20" y2="10.0" stroke="#222" stroke-width="0.8"/>
<line x1="394.20" y1="117.3" x2="394.20" y2="115.1" stroke="#222" stroke-width="0.8"/>
<line x1="406.80" y1="7.8" x2="406.80" y2="9.2" stroke="#222" stroke-width="0.8"/>
<line x1="406.80" y1="117.3" x2="406.80" y2="115.89999999999999" stroke="#222" stroke-width="0.8"/>
<line x1="419.40" y1="7.8" x2="419.40" y2="10.0" stroke="#222" stroke-width="0.8"/>
<line x1="419.40" y1="117.3" x2="419.40" y2="115.1" stroke="#222" stroke-width="0.8"/>
<line x1="432.00" y1="7.8" x2="432.00" y2="9.2" stroke="#222" stroke-width="0.8"/>
<line x1="432.00" y1="117.3" x2="432.00" y2="115.89999999999999" stroke="#222" stroke-width="0.8"/>
<line x1="444.60" y1="7.8" x2="444.60" y2="10.0" stroke="#222" stroke-width="0.8"/>
<line x1="444.60" y1="117.3" x2="444.60" y2="115.1" stroke="#222" stroke-width="0.8"/>
<line x1="457.20" y1="7.8" x2="457.20" y2="9.2" stroke="#222" stroke-width="0.8"/>
<line x1="457.20" y1="117.3" x2="457.20" y2="115.89999999999999" stroke="#222" stroke-width="0.8"/>
<line x1="469.80" y1="7.8" x2="469.80" y2="10.0" stroke="#222" stroke-width="0.8"/>
<line x1="469.80" y1="117.3" x2="469.80" y2="115.1" stroke="#222" stroke-width="0.8"/>
<line x1="343.8" y1="99.4" x2="346" y2="99.4" stroke="#222" stroke-width="0.8"/>
<line x1="470.5" y1="99.4" x2="468.3" y2="99.4" stroke="#222" stroke-width="0.8"/>
<line x1="343.8" y1="81.5" x2="346" y2="81.5" stroke="#222" stroke-width="0.8"/>
<line x1="470.5" y1="81.5" x2="468.3" y2="81.5" stroke="#222" stroke-width="0.8"/>
<line x1="343.8" y1="63.6" x2="346" y2="63.6" stroke="#222" stroke-width="0.8"/>
<line x1="470.5" y1="63.6" x2="468.3" y2="63.6" stroke="#222" stroke-width="0.8"/>
<line x1="343.8" y1="45.7" x2="346" y2="45.7" stroke="#222" stroke-width="0.8"/>
<line x1="470.5" y1="45.7" x2="468.3" y2="45.7" stroke="#222" stroke-width="0.8"/>
<line x1="343.8" y1="27.8" x2="346" y2="27.8" stroke="#222" stroke-width="0.8"/>
<line x1="470.5" y1="27.8" x2="468.3" y2="27.8" stroke="#222" stroke-width="0.8"/>
<line x1="343.8" y1="9.9" x2="346" y2="9.9" stroke="#222" stroke-width="0.8"/>
<line x1="470.5" y1="9.9" x2="468.3" y2="9.9" stroke="#222" stroke-width="0.8"/>
<text x="343.80" y="125.5" font-size="7.7" fill="#111" font-weight="normal" text-anchor="middle" class="h"  >1.7</text>
<text x="369.00" y="125.5" font-size="7.7" fill="#111" font-weight="normal" text-anchor="middle" class="h"  >1.8</text>
<text x="394.20" y="125.5" font-size="7.7" fill="#111" font-weight="normal" text-anchor="middle" class="h"  >1.9</text>
<text x="419.40" y="125.5" font-size="7.7" fill="#111" font-weight="normal" text-anchor="middle" class="h"  >2.0</text>
<text x="444.60" y="125.5" font-size="7.7" fill="#111" font-weight="normal" text-anchor="middle" class="h"  >2.1</text>
<text x="469.80" y="125.5" font-size="7.7" fill="#111" font-weight="normal" text-anchor="middle" class="h"  >2.2</text>
<text x="406.7" y="137" font-size="7.4" fill="#111" font-weight="normal" text-anchor="middle" textLength="65.4" lengthAdjust="spacingAndGlyphs" class="h"  >Photon Energy (eV)</text>
<text transform="translate(329.8,58.3) rotate(-90)" x="0" y="0" font-size="8" fill="#111" class="h" text-anchor="middle" textLength="77.8" lengthAdjust="spacingAndGlyphs">PL Intensity (arb. units)</text>
<text x="350" y="21" font-size="7.6" fill="#111" font-weight="normal" text-anchor="start"  ><tspan font-style="italic">p</tspan>-type</text>
<text x="389.9" y="15.6" font-size="6.5" fill="#111" font-weight="normal" text-anchor="middle" class="h"  >A</text>
<text x="424" y="108.4" font-size="6.5" fill="#111" font-weight="normal" text-anchor="middle" class="h"  >B</text>
<path d="M358.9,86.2 L358.9,50.2 L353.3,52.6 L361.7,38.3 L370.2,52.6 L364.6,50.2 L364.6,86.2 Z" fill="#838383"/>
<path d="M343.80,116.20 L344.05,116.20 L344.31,116.20 L344.56,116.20 L344.82,116.20 L345.07,116.20 L345.32,116.20 L345.58,116.20 L345.83,116.20 L346.09,116.20 L346.34,116.20 L346.59,116.20 L346.85,116.20 L347.10,116.20 L347.35,116.20 L347.61,116.20 L347.86,116.20 L348.12,116.20 L348.37,116.20 L348.62,116.20 L348.88,116.20 L349.13,116.20 L349.39,116.20 L349.64,116.20 L349.89,116.20 L350.15,116.20 L350.40,116.20 L350.66,116.20 L350.91,116.20 L351.16,116.20 L351.42,116.20 L351.67,116.20 L351.93,116.20 L352.18,116.20 L352.43,116.20 L352.69,116.20 L352.94,116.20 L353.19,116.20 L353.45,116.20 L353.70,116.20 L353.96,116.20 L354.21,116.20 L354.46,116.20 L354.72,116.20 L354.97,116.20 L355.23,116.20 L355.48,116.20 L355.73,116.20 L355.99,116.20 L356.24,116.20 L356.50,116.20 L356.75,116.20 L357.00,116.20 L357.26,116.20 L357.51,116.20 L357.76,116.20 L358.02,116.20 L358.27,116.20 L358.53,116.19 L358.78,116.19 L359.03,116.19 L359.29,116.19 L359.54,116.19 L359.80,116.19 L360.05,116.19 L360.30,116.19 L360.56,116.19 L360.81,116.19 L361.07,116.18 L361.32,116.18 L361.57,116.18 L361.83,116.18 L362.08,116.18 L362.34,116.17 L362.59,116.17 L362.84,116.17 L363.10,116.16 L363.35,116.16 L363.60,116.16 L363.86,116.15 L364.11,116.15 L364.37,116.14 L364.62,116.14 L364.87,116.13 L365.13,116.13 L365.38,116.12 L365.64,116.11 L365.89,116.10 L366.14,116.10 L366.40,116.09 L366.65,116.08 L366.91,116.07 L367.16,116.06 L367.41,116.04 L367.67,116.03 L367.92,116.02 L368.18,116.00 L368.43,115.99 L368.68,115.97 L368.94,115.96 L369.19,115.94 L369.44,115.92 L369.70,115.90 L369.95,115.88 L370.21,115.86 L370.46,115.83 L370.71,115.81 L370.97,115.78 L371.22,115.76 L371.48,115.73 L371.73,115.70 L371.98,115.67 L372.24,115.64 L372.49,115.60 L372.75,115.57 L373.00,115.53 L373.25,115.49 L373.51,115.46 L373.76,115.42 L374.02,115.38 L374.27,115.33 L374.52,115.29 L374.78,115.25 L375.03,115.20 L375.28,115.15 L375.54,115.11 L375.79,115.06 L376.05,115.01 L376.30,114.96 L376.55,114.91 L376.81,114.86 L377.06,114.80 L377.32,114.75 L377.57,114.70 L377.82,114.65 L378.08,114.59 L378.33,114.54 L378.59,114.49 L378.84,114.43 L379.09,114.38 L379.35,114.33 L379.60,114.28 L379.85,114.22 L380.11,114.17 L380.36,114.12 L380.62,114.08 L380.87,114.03 L381.12,113.98 L381.38,113.94 L381.63,113.89 L381.89,113.85 L382.14,113.81 L382.39,113.78 L382.65,113.74 L382.90,113.71 L383.16,113.67 L383.41,113.65 L383.66,113.62 L383.92,113.60 L384.17,113.57 L384.43,113.55 L384.68,113.54 L384.93,113.53 L385.19,113.51 L385.44,113.51 L385.69,113.50 L385.95,113.50 L386.20,113.50 L386.46,113.50 L386.71,113.51 L386.96,113.52 L387.22,113.53 L387.47,113.55 L387.73,113.57 L387.98,113.59 L388.23,113.61 L388.49,113.63 L388.74,113.66 L389.00,113.69 L389.25,113.73 L389.50,113.76 L389.76,113.80 L390.01,113.84 L390.27,113.88 L390.52,113.92 L390.77,113.96 L391.03,114.01 L391.28,114.06 L391.53,114.10 L391.79,114.15 L392.04,114.20 L392.30,114.25 L392.55,114.31 L392.80,114.36 L393.06,114.41 L393.31,114.46 L393.57,114.52 L393.82,114.57 L394.07,114.62 L394.33,114.68 L394.58,114.73 L394.84,114.78 L395.09,114.84 L395.34,114.89 L395.60,114.94 L395.85,114.99 L396.11,115.04 L396.36,115.09 L396.61,115.14 L396.87,115.18 L397.12,115.23 L397.37,115.27 L397.63,115.32 L397.88,115.36 L398.14,115.40 L398.39,115.44 L398.64,115.48 L398.90,115.52 L399.15,115.55 L399.41,115.59 L399.66,115.62 L399.91,115.65 L400.17,115.69 L400.42,115.72 L400.68,115.74 L400.93,115.77 L401.18,115.80 L401.44,115.82 L401.69,115.85 L401.94,115.87 L402.20,115.89 L402.45,115.91 L402.71,115.93 L402.96,115.95 L403.21,115.97 L403.47,115.98 L403.72,116.00 L403.98,116.01 L404.23,116.03 L404.48,116.04 L404.74,116.05 L404.99,116.06 L405.25,116.07 L405.50,116.08 L405.75,116.09 L406.01,116.10 L406.26,116.11 L406.52,116.12 L406.77,116.12 L407.02,116.13 L407.28,116.14 L407.53,116.14 L407.78,116.15 L408.04,116.15 L408.29,116.16 L408.55,116.16 L408.80,116.16 L409.05,116.17 L409.31,116.17 L409.56,116.17 L409.82,116.18 L410.07,116.18 L410.32,116.18 L410.58,116.18 L410.83,116.18 L411.09,116.19 L411.34,116.19 L411.59,116.19 L411.85,116.19 L412.10,116.19 L412.36,116.19 L412.61,116.19 L412.86,116.19 L413.12,116.19 L413.37,116.19 L413.62,116.20 L413.88,116.20 L414.13,116.20 L414.39,116.20 L414.64,116.20 L414.89,116.20 L415.15,116.20 L415.40,116.20 L415.66,116.20 L415.91,116.20 L416.16,116.20 L416.42,116.20 L416.67,116.20 L416.93,116.20 L417.18,116.20 L417.43,116.20 L417.69,116.20 L417.94,116.20 L418.19,116.20 L418.45,116.20 L418.70,116.20 L418.96,116.20 L419.21,116.20 L419.46,116.20 L419.72,116.20 L419.97,116.20 L420.23,116.20 L420.48,116.20 L420.73,116.20 L420.99,116.20 L421.24,116.20 L421.50,116.20 L421.75,116.20 L422.00,116.20 L422.26,116.20 L422.51,116.20 L422.77,116.20 L423.02,116.20 L423.27,116.20 L423.53,116.20 L423.78,116.20 L424.03,116.20 L424.29,116.20 L424.54,116.20 L424.80,116.20 L425.05,116.20 L425.30,116.20 L425.56,116.20 L425.81,116.20 L426.07,116.20 L426.32,116.20 L426.57,116.20 L426.83,116.20 L427.08,116.20 L427.34,116.20 L427.59,116.20 L427.84,116.20 L428.10,116.20 L428.35,116.20 L428.61,116.20 L428.86,116.20 L429.11,116.20 L429.37,116.20 L429.62,116.20 L429.87,116.20 L430.13,116.20 L430.38,116.20 L430.64,116.20 L430.89,116.20 L431.14,116.20 L431.40,116.20 L431.65,116.20 L431.91,116.20 L432.16,116.20 L432.41,116.20 L432.67,116.20 L432.92,116.20 L433.18,116.20 L433.43,116.20 L433.68,116.20 L433.94,116.20 L434.19,116.20 L434.45,116.20 L434.70,116.20 L434.95,116.20 L435.21,116.20 L435.46,116.20 L435.71,116.20 L435.97,116.20 L436.22,116.20 L436.48,116.20 L436.73,116.20 L436.98,116.20 L437.24,116.20 L437.49,116.20 L437.75,116.20 L438.00,116.20 L438.25,116.20 L438.51,116.20 L438.76,116.20 L439.02,116.20 L439.27,116.20 L439.52,116.20 L439.78,116.20 L440.03,116.20 L440.28,116.20 L440.54,116.20 L440.79,116.20 L441.05,116.20 L441.30,116.20 L441.55,116.20 L441.81,116.20 L442.06,116.20 L442.32,116.20 L442.57,116.20 L442.82,116.20 L443.08,116.20 L443.33,116.20 L443.59,116.20 L443.84,116.20 L444.09,116.20 L444.35,116.20 L444.60,116.20 L444.86,116.20 L445.11,116.20 L445.36,116.20 L445.62,116.20 L445.87,116.20 L446.12,116.20 L446.38,116.20 L446.63,116.20 L446.89,116.20 L447.14,116.20 L447.39,116.20 L447.65,116.20 L447.90,116.20 L448.16,116.20 L448.41,116.20 L448.66,116.20 L448.92,116.20 L449.17,116.20 L449.43,116.20 L449.68,116.20 L449.93,116.20 L450.19,116.20 L450.44,116.20 L450.70,116.20 L450.95,116.20 L451.20,116.20 L451.46,116.20 L451.71,116.20 L451.96,116.20 L452.22,116.20 L452.47,116.20 L452.73,116.20 L452.98,116.20 L453.23,116.20 L453.49,116.20 L453.74,116.20 L454.00,116.20 L454.25,116.20 L454.50,116.20 L454.76,116.20 L455.01,116.20 L455.27,116.20 L455.52,116.20 L455.77,116.20 L456.03,116.20 L456.28,116.20 L456.54,116.20 L456.79,116.20 L457.04,116.20 L457.30,116.20 L457.55,116.20 L457.80,116.20 L458.06,116.20 L458.31,116.20 L458.57,116.20 L458.82,116.20 L459.07,116.20 L459.33,116.20 L459.58,116.20 L459.84,116.20 L460.09,116.20 L460.34,116.20 L460.60,116.20 L460.85,116.20 L461.11,116.20 L461.36,116.20 L461.61,116.20 L461.87,116.20 L462.12,116.20 L462.37,116.20 L462.63,116.20 L462.88,116.20 L463.14,116.20 L463.39,116.20 L463.64,116.20 L463.90,116.20 L464.15,116.20 L464.41,116.20 L464.66,116.20 L464.91,116.20 L465.17,116.20 L465.42,116.20 L465.68,116.20 L465.93,116.20 L466.18,116.20 L466.44,116.20 L466.69,116.20 L466.95,116.20 L467.20,116.20 L467.45,116.20 L467.71,116.20 L467.96,116.20 L468.21,116.20 L468.47,116.20 L468.72,116.20 L468.98,116.20 L469.23,116.20 L469.48,116.20 L469.74,116.20 L469.99,116.20 L470.25,116.20 L470.50,116.20" fill="none" stroke="#111" stroke-width="3"/>
<path d="M343.80,114.72 L344.05,114.69 L344.31,114.67 L344.56,114.65 L344.82,114.62 L345.07,114.60 L345.32,114.57 L345.58,114.55 L345.83,114.52 L346.09,114.50 L346.34,114.47 L346.59,114.45 L346.85,114.42 L347.10,114.39 L347.35,114.36 L347.61,114.33 L347.86,114.30 L348.12,114.27 L348.37,114.24 L348.62,114.21 L348.88,114.18 L349.13,114.15 L349.39,114.12 L349.64,114.09 L349.89,114.05 L350.15,114.02 L350.40,113.98 L350.66,113.95 L350.91,113.91 L351.16,113.87 L351.42,113.84 L351.67,113.80 L351.93,113.76 L352.18,113.72 L352.43,113.68 L352.69,113.64 L352.94,113.60 L353.19,113.55 L353.45,113.51 L353.70,113.47 L353.96,113.42 L354.21,113.37 L354.46,113.33 L354.72,113.28 L354.97,113.23 L355.23,113.18 L355.48,113.13 L355.73,113.08 L355.99,113.02 L356.24,112.97 L356.50,112.91 L356.75,112.86 L357.00,112.80 L357.26,112.74 L357.51,112.68 L357.76,112.61 L358.02,112.55 L358.27,112.49 L358.53,112.42 L358.78,112.35 L359.03,112.28 L359.29,112.21 L359.54,112.14 L359.80,112.07 L360.05,111.99 L360.30,111.91 L360.56,111.83 L360.81,111.75 L361.07,111.67 L361.32,111.58 L361.57,111.50 L361.83,111.41 L362.08,111.31 L362.34,111.22 L362.59,111.12 L362.84,111.03 L363.10,110.92 L363.35,110.82 L363.60,110.71 L363.86,110.61 L364.11,110.49 L364.37,110.38 L364.62,110.26 L364.87,110.14 L365.13,110.02 L365.38,109.89 L365.64,109.76 L365.89,109.62 L366.14,109.48 L366.40,109.34 L366.65,109.20 L366.91,109.05 L367.16,108.89 L367.41,108.73 L367.67,108.57 L367.92,108.40 L368.18,108.23 L368.43,108.05 L368.68,107.87 L368.94,107.68 L369.19,107.49 L369.44,107.29 L369.70,107.08 L369.95,106.87 L370.21,106.65 L370.46,106.43 L370.71,106.20 L370.97,105.96 L371.22,105.71 L371.48,105.46 L371.73,105.20 L371.98,104.92 L372.24,104.65 L372.49,104.36 L372.75,104.06 L373.00,103.75 L373.25,103.44 L373.51,103.11 L373.76,102.77 L374.02,102.43 L374.27,102.07 L374.52,101.70 L374.78,101.31 L375.03,100.91 L375.28,100.51 L375.54,100.08 L375.79,99.65 L376.05,99.19 L376.30,98.73 L376.55,98.25 L376.81,97.75 L377.06,97.24 L377.32,96.71 L377.57,96.16 L377.82,95.59 L378.08,95.01 L378.33,94.41 L378.59,93.79 L378.84,93.15 L379.09,92.49 L379.35,91.81 L379.60,91.11 L379.85,90.38 L380.11,89.64 L380.36,88.87 L380.62,88.07 L380.87,87.25 L381.12,86.39 L381.38,85.50 L381.63,84.56 L381.89,83.58 L382.14,82.54 L382.39,81.43 L382.65,80.24 L382.90,78.96 L383.16,77.56 L383.41,76.04 L383.66,74.36 L383.92,72.51 L384.17,70.48 L384.43,68.23 L384.68,65.77 L384.93,63.08 L385.19,60.16 L385.44,57.02 L385.69,53.68 L385.95,50.17 L386.20,46.54 L386.46,42.84 L386.71,39.14 L386.96,35.52 L387.22,32.06 L387.47,28.85 L387.73,25.98 L387.98,23.54 L388.23,21.59 L388.49,20.20 L388.74,19.42 L389.00,19.25 L389.25,19.40 L389.50,19.74 L389.76,20.28 L390.01,21.01 L390.27,21.92 L390.52,23.00 L390.77,24.25 L391.03,25.64 L391.28,27.18 L391.53,28.85 L391.79,30.64 L392.04,32.53 L392.30,34.51 L392.55,36.56 L392.80,38.69 L393.06,40.86 L393.31,43.08 L393.57,45.33 L393.82,47.60 L394.07,49.88 L394.33,52.16 L394.58,54.44 L394.84,56.69 L395.09,58.93 L395.34,61.14 L395.60,63.31 L395.85,65.44 L396.11,67.52 L396.36,69.56 L396.61,71.55 L396.87,73.48 L397.12,75.35 L397.37,77.16 L397.63,78.92 L397.88,80.61 L398.14,82.23 L398.39,83.80 L398.64,85.29 L398.90,86.73 L399.15,88.10 L399.41,89.42 L399.66,90.67 L399.91,91.86 L400.17,92.99 L400.42,94.07 L400.68,95.09 L400.93,96.06 L401.18,96.97 L401.44,97.84 L401.69,98.66 L401.94,99.43 L402.20,100.16 L402.45,100.85 L402.71,101.50 L402.96,102.11 L403.21,102.69 L403.47,103.23 L403.72,103.74 L403.98,104.23 L404.23,104.68 L404.48,105.11 L404.74,105.51 L404.99,105.89 L405.25,106.25 L405.50,106.59 L405.75,106.91 L406.01,107.21 L406.26,107.50 L406.52,107.77 L406.77,108.02 L407.02,108.26 L407.28,108.49 L407.53,108.71 L407.78,108.92 L408.04,109.12 L408.29,109.31 L408.55,109.49 L408.80,109.66 L409.05,109.82 L409.31,109.98 L409.56,110.13 L409.82,110.27 L410.07,110.41 L410.32,110.54 L410.58,110.67 L410.83,110.79 L411.09,110.91 L411.34,111.02 L411.59,111.13 L411.85,111.23 L412.10,111.34 L412.36,111.43 L412.61,111.53 L412.86,111.62 L413.12,111.71 L413.37,111.79 L413.62,111.87 L413.88,111.95 L414.13,112.03 L414.39,112.10 L414.64,112.18 L414.89,112.25 L415.15,112.31 L415.40,112.38 L415.66,112.44 L415.91,112.50 L416.16,112.56 L416.42,112.62 L416.67,112.67 L416.93,112.73 L417.18,112.78 L417.43,112.83 L417.69,112.88 L417.94,112.93 L418.19,112.97 L418.45,113.02 L418.70,113.06 L418.96,113.10 L419.21,113.14 L419.46,113.18 L419.72,113.22 L419.97,113.26 L420.23,113.29 L420.48,113.33 L420.73,113.36 L420.99,113.40 L421.24,113.43 L421.50,113.46 L421.75,113.49 L422.00,113.52 L422.26,113.55 L422.51,113.58 L422.77,113.61 L423.02,113.64 L423.27,113.66 L423.53,113.69 L423.78,113.72 L424.03,113.74 L424.29,113.77 L424.54,113.79 L424.80,113.82 L425.05,113.84 L425.30,113.86 L425.56,113.89 L425.81,113.91 L426.07,113.93 L426.32,113.95 L426.57,113.98 L426.83,114.00 L427.08,114.02 L427.34,114.04 L427.59,114.06 L427.84,114.09 L428.10,114.11 L428.35,114.13 L428.61,114.15 L428.86,114.17 L429.11,114.19 L429.37,114.22 L429.62,114.24 L429.87,114.26 L430.13,114.28 L430.38,114.30 L430.64,114.32 L430.89,114.34 L431.14,114.37 L431.40,114.39 L431.65,114.41 L431.91,114.43 L432.16,114.45 L432.41,114.48 L432.67,114.50 L432.92,114.52 L433.18,114.54 L433.43,114.57 L433.68,114.59 L433.94,114.61 L434.19,114.63 L434.45,114.66 L434.70,114.68 L434.95,114.70 L435.21,114.72 L435.46,114.75 L435.71,114.77 L435.97,114.79 L436.22,114.82 L436.48,114.84 L436.73,114.86 L436.98,114.88 L437.24,114.91 L437.49,114.93 L437.75,114.95 L438.00,114.98 L438.25,115.00 L438.51,115.02 L438.76,115.04 L439.02,115.07 L439.27,115.09 L439.52,115.11 L439.78,115.13 L440.03,115.16 L440.28,115.18 L440.54,115.20 L440.79,115.22 L441.05,115.24 L441.30,115.26 L441.55,115.28 L441.81,115.31 L442.06,115.33 L442.32,115.35 L442.57,115.37 L442.82,115.39 L443.08,115.41 L443.33,115.43 L443.59,115.45 L443.84,115.46 L444.09,115.48 L444.35,115.50 L444.60,115.52 L444.86,115.54 L445.11,115.56 L445.36,115.57 L445.62,115.59 L445.87,115.61 L446.12,115.63 L446.38,115.64 L446.63,115.66 L446.89,115.67 L447.14,115.69 L447.39,115.70 L447.65,115.72 L447.90,115.73 L448.16,115.75 L448.41,115.76 L448.66,115.78 L448.92,115.79 L449.17,115.80 L449.43,115.82 L449.68,115.83 L449.93,115.84 L450.19,115.85 L450.44,115.87 L450.70,115.88 L450.95,115.89 L451.20,115.90 L451.46,115.91 L451.71,115.92 L451.96,115.93 L452.22,115.94 L452.47,115.95 L452.73,115.96 L452.98,115.97 L453.23,115.98 L453.49,115.99 L453.74,116.00 L454.00,116.01 L454.25,116.02 L454.50,116.03 L454.76,116.04 L455.01,116.04 L455.27,116.05 L455.52,116.06 L455.77,116.07 L456.03,116.07 L456.28,116.08 L456.54,116.09 L456.79,116.09 L457.04,116.10 L457.30,116.11 L457.55,116.11 L457.80,116.12 L458.06,116.13 L458.31,116.13 L458.57,116.14 L458.82,116.14 L459.07,116.15 L459.33,116.16 L459.58,116.16 L459.84,116.17 L460.09,116.17 L460.34,116.18 L460.60,116.18 L460.85,116.19 L461.11,116.19 L461.36,116.20 L461.61,116.20 L461.87,116.21 L462.12,116.21 L462.37,116.22 L462.63,116.22 L462.88,116.22 L463.14,116.23 L463.39,116.23 L463.64,116.24 L463.90,116.24 L464.15,116.24 L464.41,116.25 L464.66,116.25 L464.91,116.26 L465.17,116.26 L465.42,116.26 L465.68,116.27 L465.93,116.27 L466.18,116.28 L466.44,116.28 L466.69,116.28 L466.95,116.29 L467.20,116.29 L467.45,116.29 L467.71,116.30 L467.96,116.30 L468.21,116.30 L468.47,116.31 L468.72,116.31 L468.98,116.31 L469.23,116.32 L469.48,116.32 L469.74,116.32 L469.99,116.32 L470.25,116.33 L470.50,116.33" fill="none" stroke="#ff3636" stroke-width="3"/>
<path d="M343.80,114.29 L344.05,114.26 L344.31,114.23 L344.56,114.21 L344.82,114.18 L345.07,114.15 L345.32,114.12 L345.58,114.09 L345.83,114.06 L346.09,114.03 L346.34,114.00 L346.59,113.97 L346.85,113.94 L347.10,113.91 L347.35,113.87 L347.61,113.84 L347.86,113.80 L348.12,113.77 L348.37,113.73 L348.62,113.70 L348.88,113.66 L349.13,113.62 L349.39,113.59 L349.64,113.55 L349.89,113.51 L350.15,113.47 L350.40,113.43 L350.66,113.39 L350.91,113.35 L351.16,113.30 L351.42,113.26 L351.67,113.21 L351.93,113.17 L352.18,113.12 L352.43,113.08 L352.69,113.03 L352.94,112.98 L353.19,112.93 L353.45,112.88 L353.70,112.83 L353.96,112.78 L354.21,112.72 L354.46,112.67 L354.72,112.61 L354.97,112.56 L355.23,112.50 L355.48,112.44 L355.73,112.38 L355.99,112.32 L356.24,112.25 L356.50,112.19 L356.75,112.12 L357.00,112.06 L357.26,111.99 L357.51,111.92 L357.76,111.85 L358.02,111.78 L358.27,111.70 L358.53,111.63 L358.78,111.55 L359.03,111.47 L359.29,111.39 L359.54,111.31 L359.80,111.23 L360.05,111.14 L360.30,111.05 L360.56,110.96 L360.81,110.87 L361.07,110.78 L361.32,110.68 L361.57,110.58 L361.83,110.48 L362.08,110.38 L362.34,110.27 L362.59,110.17 L362.84,110.06 L363.10,109.94 L363.35,109.83 L363.60,109.71 L363.86,109.59 L364.11,109.47 L364.37,109.34 L364.62,109.21 L364.87,109.08 L365.13,108.94 L365.38,108.80 L365.64,108.66 L365.89,108.51 L366.14,108.36 L366.40,108.20 L366.65,108.04 L366.91,107.88 L367.16,107.71 L367.41,107.54 L367.67,107.37 L367.92,107.19 L368.18,107.00 L368.43,106.81 L368.68,106.62 L368.94,106.42 L369.19,106.21 L369.44,106.00 L369.70,105.79 L369.95,105.56 L370.21,105.33 L370.46,105.10 L370.71,104.86 L370.97,104.61 L371.22,104.35 L371.48,104.09 L371.73,103.82 L371.98,103.54 L372.24,103.26 L372.49,102.96 L372.75,102.66 L373.00,102.35 L373.25,102.02 L373.51,101.69 L373.76,101.35 L374.02,101.00 L374.27,100.63 L374.52,100.25 L374.78,99.86 L375.03,99.45 L375.28,99.03 L375.54,98.60 L375.79,98.14 L376.05,97.67 L376.30,97.18 L376.55,96.66 L376.81,96.13 L377.06,95.57 L377.32,94.98 L377.57,94.36 L377.82,93.71 L378.08,93.03 L378.33,92.31 L378.59,91.56 L378.84,90.76 L379.09,89.92 L379.35,89.03 L379.60,88.09 L379.85,87.10 L380.11,86.05 L380.36,84.95 L380.62,83.79 L380.87,82.56 L381.12,81.27 L381.38,79.92 L381.63,78.50 L381.89,77.01 L382.14,75.46 L382.39,73.85 L382.65,72.17 L382.90,70.44 L383.16,68.65 L383.41,66.81 L383.66,64.92 L383.92,63.00 L384.17,61.05 L384.43,59.08 L384.68,57.10 L384.93,55.13 L385.19,53.16 L385.44,51.22 L385.69,49.32 L385.95,47.46 L386.20,45.68 L386.46,43.97 L386.71,42.35 L386.96,40.84 L387.22,39.45 L387.47,38.19 L387.73,37.07 L387.98,36.11 L388.23,35.30 L388.49,34.66 L388.74,34.20 L389.00,33.92 L389.25,33.81 L389.50,33.94 L389.76,34.34 L390.01,34.99 L390.27,35.89 L390.52,37.01 L390.77,38.34 L391.03,39.83 L391.28,41.47 L391.53,43.23 L391.79,45.09 L392.04,47.01 L392.30,48.98 L392.55,50.99 L392.80,53.00 L393.06,55.02 L393.31,57.02 L393.57,59.01 L393.82,60.97 L394.07,62.90 L394.33,64.79 L394.58,66.64 L394.84,68.45 L395.09,70.22 L395.34,71.94 L395.60,73.62 L395.85,75.25 L396.11,76.84 L396.36,78.38 L396.61,79.88 L396.87,81.34 L397.12,82.75 L397.37,84.12 L397.63,85.44 L397.88,86.73 L398.14,87.97 L398.39,89.17 L398.64,90.33 L398.90,91.44 L399.15,92.52 L399.41,93.56 L399.66,94.56 L399.91,95.52 L400.17,96.44 L400.42,97.33 L400.68,98.18 L400.93,98.99 L401.18,99.77 L401.44,100.51 L401.69,101.22 L401.94,101.90 L402.20,102.54 L402.45,103.16 L402.71,103.74 L402.96,104.29 L403.21,104.82 L403.47,105.32 L403.72,105.79 L403.98,106.24 L404.23,106.66 L404.48,107.06 L404.74,107.44 L404.99,107.79 L405.25,108.12 L405.50,108.44 L405.75,108.73 L406.01,109.01 L406.26,109.27 L406.52,109.51 L406.77,109.74 L407.02,109.96 L407.28,110.16 L407.53,110.35 L407.78,110.52 L408.04,110.69 L408.29,110.84 L408.55,110.98 L408.80,111.12 L409.05,111.24 L409.31,111.36 L409.56,111.47 L409.82,111.57 L410.07,111.66 L410.32,111.75 L410.58,111.84 L410.83,111.92 L411.09,111.99 L411.34,112.06 L411.59,112.12 L411.85,112.18 L412.10,112.24 L412.36,112.29 L412.61,112.34 L412.86,112.39 L413.12,112.44 L413.37,112.48 L413.62,112.52 L413.88,112.56 L414.13,112.59 L414.39,112.63 L414.64,112.66 L414.89,112.70 L415.15,112.73 L415.40,112.76 L415.66,112.79 L415.91,112.81 L416.16,112.84 L416.42,112.87 L416.67,112.89 L416.93,112.92 L417.18,112.94 L417.43,112.96 L417.69,112.99 L417.94,113.01 L418.19,113.03 L418.45,113.06 L418.70,113.08 L418.96,113.10 L419.21,113.12 L419.46,113.14 L419.72,113.16 L419.97,113.19 L420.23,113.21 L420.48,113.23 L420.73,113.25 L420.99,113.27 L421.24,113.29 L421.50,113.31 L421.75,113.33 L422.00,113.35 L422.26,113.37 L422.51,113.39 L422.77,113.42 L423.02,113.44 L423.27,113.46 L423.53,113.48 L423.78,113.50 L424.03,113.52 L424.29,113.54 L424.54,113.57 L424.80,113.59 L425.05,113.61 L425.30,113.63 L425.56,113.65 L425.81,113.68 L426.07,113.70 L426.32,113.72 L426.57,113.74 L426.83,113.77 L427.08,113.79 L427.34,113.81 L427.59,113.83 L427.84,113.86 L428.10,113.88 L428.35,113.90 L428.61,113.93 L428.86,113.95 L429.11,113.98 L429.37,114.00 L429.62,114.02 L429.87,114.05 L430.13,114.07 L430.38,114.10 L430.64,114.12 L430.89,114.15 L431.14,114.17 L431.40,114.19 L431.65,114.22 L431.91,114.24 L432.16,114.27 L432.41,114.29 L432.67,114.32 L432.92,114.34 L433.18,114.37 L433.43,114.39 L433.68,114.42 L433.94,114.44 L434.19,114.47 L434.45,114.50 L434.70,114.52 L434.95,114.55 L435.21,114.57 L435.46,114.60 L435.71,114.62 L435.97,114.65 L436.22,114.67 L436.48,114.70 L436.73,114.72 L436.98,114.75 L437.24,114.77 L437.49,114.80 L437.75,114.82 L438.00,114.85 L438.25,114.87 L438.51,114.90 L438.76,114.92 L439.02,114.95 L439.27,114.97 L439.52,114.99 L439.78,115.02 L440.03,115.04 L440.28,115.07 L440.54,115.09 L440.79,115.11 L441.05,115.14 L441.30,115.16 L441.55,115.18 L441.81,115.21 L442.06,115.23 L442.32,115.25 L442.57,115.28 L442.82,115.30 L443.08,115.32 L443.33,115.34 L443.59,115.36 L443.84,115.39 L444.09,115.41 L444.35,115.43 L444.60,115.45 L444.86,115.47 L445.11,115.49 L445.36,115.51 L445.62,115.53 L445.87,115.55 L446.12,115.57 L446.38,115.59 L446.63,115.61 L446.89,115.63 L447.14,115.65 L447.39,115.67 L447.65,115.69 L447.90,115.71 L448.16,115.73 L448.41,115.74 L448.66,115.76 L448.92,115.78 L449.17,115.80 L449.43,115.81 L449.68,115.83 L449.93,115.85 L450.19,115.87 L450.44,115.88 L450.70,115.90 L450.95,115.91 L451.20,115.93 L451.46,115.94 L451.71,115.96 L451.96,115.97 L452.22,115.99 L452.47,116.00 L452.73,116.02 L452.98,116.03 L453.23,116.05 L453.49,116.06 L453.74,116.07 L454.00,116.09 L454.25,116.10 L454.50,116.11 L454.76,116.12 L455.01,116.14 L455.27,116.15 L455.52,116.16 L455.77,116.17 L456.03,116.18 L456.28,116.19 L456.54,116.21 L456.79,116.22 L457.04,116.23 L457.30,116.24 L457.55,116.25 L457.80,116.26 L458.06,116.27 L458.31,116.28 L458.57,116.29 L458.82,116.30 L459.07,116.30 L459.33,116.31 L459.58,116.32 L459.84,116.33 L460.09,116.34 L460.34,116.35 L460.60,116.36 L460.85,116.36 L461.11,116.37 L461.36,116.38 L461.61,116.39 L461.87,116.39 L462.12,116.40 L462.37,116.41 L462.63,116.41 L462.88,116.42 L463.14,116.43 L463.39,116.43 L463.64,116.44 L463.90,116.44 L464.15,116.45 L464.41,116.46 L464.66,116.46 L464.91,116.47 L465.17,116.47 L465.42,116.48 L465.68,116.48 L465.93,116.49 L466.18,116.49 L466.44,116.50 L466.69,116.50 L466.95,116.51 L467.20,116.51 L467.45,116.52 L467.71,116.52 L467.96,116.52 L468.21,116.53 L468.47,116.53 L468.72,116.54 L468.98,116.54 L469.23,116.54 L469.48,116.55 L469.74,116.55 L469.99,116.55 L470.25,116.56 L470.50,116.56" fill="none" stroke="#1010f0" stroke-width="3"/>
<line x1="399" y1="18.70" x2="412.4" y2="18.70" stroke="#111" stroke-width="1.5"/>
<circle cx="405.7" cy="18.70" r="2.4" fill="#111"/>
<text x="414.3" y="21.30" font-size="7.5" fill="#111" font-weight="normal" text-anchor="start" class="h"  >As-prepared</text>
<line x1="399" y1="27.55" x2="412.4" y2="27.55" stroke="#1010f0" stroke-width="1.5"/>
<circle cx="405.7" cy="27.55" r="2.4" fill="#1010f0"/>
<text x="414.3" y="30.15" font-size="7.5" fill="#111" font-weight="normal" text-anchor="start" class="h"  >TCNQ-doped</text>
<line x1="399" y1="36.40" x2="412.4" y2="36.40" stroke="#ff3636" stroke-width="1.5"/>
<circle cx="405.7" cy="36.40" r="2.4" fill="#ff3636"/>
<text x="414.3" y="39.00" font-size="7.5" fill="#111" font-weight="normal" text-anchor="start" class="h"  >F<tspan font-size="5" dy="1.5">4</tspan><tspan dy="-1.5">TCNQ-doped</tspan></text>
<rect x="0" y="157.3" width="16.2" height="15" fill="#a3a3a7"/>
<text x="8.1" y="170.4" font-size="14.8" fill="#fff" font-weight="bold" text-anchor="middle"  >d</text>
<rect x="29.4" y="165.5" width="135.1" height="111" fill="none" stroke="#222" stroke-width="0.9"/>
<line x1="29.40" y1="165.5" x2="29.40" y2="167.7" stroke="#222" stroke-width="0.8"/>
<line x1="29.40" y1="276.5" x2="29.40" y2="274.3" stroke="#222" stroke-width="0.8"/>
<line x1="42.90" y1="165.5" x2="42.90" y2="166.9" stroke="#222" stroke-width="0.8"/>
<line x1="42.90" y1="276.5" x2="42.90" y2="275.1" stroke="#222" stroke-width="0.8"/>
<line x1="56.40" y1="165.5" x2="56.40" y2="167.7" stroke="#222" stroke-width="0.8"/>
<line x1="56.40" y1="276.5" x2="56.40" y2="274.3" stroke="#222" stroke-width="0.8"/>
<line x1="69.90" y1="165.5" x2="69.90" y2="166.9" stroke="#222" stroke-width="0.8"/>
<line x1="69.90" y1="276.5" x2="69.90" y2="275.1" stroke="#222" stroke-width="0.8"/>
<line x1="83.40" y1="165.5" x2="83.40" y2="167.7" stroke="#222" stroke-width="0.8"/>
<line x1="83.40" y1="276.5" x2="83.40" y2="274.3" stroke="#222" stroke-width="0.8"/>
<line x1="96.90" y1="165.5" x2="96.90" y2="166.9" stroke="#222" stroke-width="0.8"/>
<line x1="96.90" y1="276.5" x2="96.90" y2="275.1" stroke="#222" stroke-width="0.8"/>
<line x1="110.40" y1="165.5" x2="110.40" y2="167.7" stroke="#222" stroke-width="0.8"/>
<line x1="110.40" y1="276.5" x2="110.40" y2="274.3" stroke="#222" stroke-width="0.8"/>
<line x1="123.90" y1="165.5" x2="123.90" y2="166.9" stroke="#222" stroke-width="0.8"/>
<line x1="123.90" y1="276.5" x2="123.90" y2="275.1" stroke="#222" stroke-width="0.8"/>
<line x1="137.40" y1="165.5" x2="137.40" y2="167.7" stroke="#222" stroke-width="0.8"/>
<line x1="137.40" y1="276.5" x2="137.40" y2="274.3" stroke="#222" stroke-width="0.8"/>
<line x1="150.90" y1="165.5" x2="150.90" y2="166.9" stroke="#222" stroke-width="0.8"/>
<line x1="150.90" y1="276.5" x2="150.90" y2="275.1" stroke="#222" stroke-width="0.8"/>
<line x1="164.40" y1="165.5" x2="164.40" y2="167.7" stroke="#222" stroke-width="0.8"/>
<line x1="164.40" y1="276.5" x2="164.40" y2="274.3" stroke="#222" stroke-width="0.8"/>
<line x1="29.4" y1="176.5" x2="31.6" y2="176.5" stroke="#222" stroke-width="0.8"/>
<line x1="164.5" y1="176.5" x2="162.3" y2="176.5" stroke="#222" stroke-width="0.8"/>
<line x1="29.4" y1="193.3" x2="31.6" y2="193.3" stroke="#222" stroke-width="0.8"/>
<line x1="164.5" y1="193.3" x2="162.3" y2="193.3" stroke="#222" stroke-width="0.8"/>
<line x1="29.4" y1="210" x2="31.6" y2="210" stroke="#222" stroke-width="0.8"/>
<line x1="164.5" y1="210" x2="162.3" y2="210" stroke="#222" stroke-width="0.8"/>
<line x1="29.4" y1="226.7" x2="31.6" y2="226.7" stroke="#222" stroke-width="0.8"/>
<line x1="164.5" y1="226.7" x2="162.3" y2="226.7" stroke="#222" stroke-width="0.8"/>
<line x1="29.4" y1="243.3" x2="31.6" y2="243.3" stroke="#222" stroke-width="0.8"/>
<line x1="164.5" y1="243.3" x2="162.3" y2="243.3" stroke="#222" stroke-width="0.8"/>
<line x1="29.4" y1="259.9" x2="31.6" y2="259.9" stroke="#222" stroke-width="0.8"/>
<line x1="164.5" y1="259.9" x2="162.3" y2="259.9" stroke="#222" stroke-width="0.8"/>
<text x="29.40" y="285.4" font-size="8" fill="#111" font-weight="normal" text-anchor="middle" class="h"  >1.7</text>
<text x="56.40" y="285.4" font-size="8" fill="#111" font-weight="normal" text-anchor="middle" class="h"  >1.8</text>
<text x="83.40" y="285.4" font-size="8" fill="#111" font-weight="normal" text-anchor="middle" class="h"  >1.9</text>
<text x="110.40" y="285.4" font-size="8" fill="#111" font-weight="normal" text-anchor="middle" class="h"  >2.0</text>
<text x="137.40" y="285.4" font-size="8" fill="#111" font-weight="normal" text-anchor="middle" class="h"  >2.1</text>
<text x="164.40" y="285.4" font-size="8" fill="#111" font-weight="normal" text-anchor="middle" class="h"  >2.2</text>
<text x="96" y="297.5" font-size="8" fill="#111" font-weight="normal" text-anchor="middle" textLength="70.1" lengthAdjust="spacingAndGlyphs" class="h"  >Photon Energy (eV)</text>
<text transform="translate(14.2,219.2) rotate(-90)" x="0" y="0" font-size="8.3" fill="#111" class="h" text-anchor="middle" textLength="85.7" lengthAdjust="spacingAndGlyphs">PL Intensity (arb. units)</text>
<text x="36.8" y="182" font-size="8" fill="#111" font-weight="normal" text-anchor="start" class="h"  ><tspan font-style="italic">n</tspan>-type</text>
<text x="74.2" y="233.6" font-size="7.8" fill="#111" font-weight="normal" text-anchor="middle" class="h"  >A</text>
<text x="117.6" y="267.4" font-size="8.4" fill="#111" font-weight="normal" text-anchor="middle" class="h"  >B</text>
<path d="M49.4,212.2 L55.8,212.2 L55.8,231.2 L60.5,232.8 L52.6,240.8 L44.6,232.8 L49.4,231.2 Z" fill="#838383"/>
<path d="M29.40,274.25 L29.74,274.23 L30.08,274.21 L30.42,274.19 L30.75,274.17 L31.09,274.15 L31.43,274.13 L31.77,274.10 L32.11,274.08 L32.45,274.06 L32.79,274.03 L33.12,274.01 L33.46,273.98 L33.80,273.96 L34.14,273.93 L34.48,273.90 L34.82,273.87 L35.16,273.85 L35.49,273.82 L35.83,273.79 L36.17,273.76 L36.51,273.72 L36.85,273.69 L37.19,273.66 L37.53,273.62 L37.86,273.59 L38.20,273.55 L38.54,273.52 L38.88,273.48 L39.22,273.44 L39.56,273.40 L39.90,273.36 L40.24,273.31 L40.57,273.27 L40.91,273.22 L41.25,273.18 L41.59,273.13 L41.93,273.08 L42.27,273.03 L42.61,272.97 L42.94,272.92 L43.28,272.86 L43.62,272.80 L43.96,272.74 L44.30,272.68 L44.64,272.61 L44.98,272.54 L45.31,272.47 L45.65,272.40 L45.99,272.32 L46.33,272.24 L46.67,272.16 L47.01,272.08 L47.35,271.99 L47.68,271.90 L48.02,271.80 L48.36,271.70 L48.70,271.60 L49.04,271.49 L49.38,271.37 L49.72,271.26 L50.05,271.13 L50.39,271.01 L50.73,270.87 L51.07,270.74 L51.41,270.59 L51.75,270.44 L52.09,270.28 L52.42,270.12 L52.76,269.95 L53.10,269.77 L53.44,269.59 L53.78,269.39 L54.12,269.19 L54.46,268.98 L54.79,268.77 L55.13,268.54 L55.47,268.31 L55.81,268.06 L56.15,267.81 L56.49,267.54 L56.83,267.27 L57.16,266.98 L57.50,266.69 L57.84,266.38 L58.18,266.07 L58.52,265.74 L58.86,265.40 L59.20,265.05 L59.54,264.68 L59.87,264.31 L60.21,263.92 L60.55,263.52 L60.89,263.11 L61.23,262.69 L61.57,262.25 L61.91,261.80 L62.24,261.34 L62.58,260.87 L62.92,260.38 L63.26,259.88 L63.60,259.38 L63.94,258.86 L64.28,258.33 L64.61,257.78 L64.95,257.23 L65.29,256.67 L65.63,256.10 L65.97,255.52 L66.31,254.94 L66.65,254.35 L66.98,253.75 L67.32,253.15 L67.66,252.54 L68.00,251.93 L68.34,251.33 L68.68,250.72 L69.02,250.12 L69.35,249.53 L69.69,248.94 L70.03,248.36 L70.37,247.79 L70.71,247.24 L71.05,246.70 L71.39,246.18 L71.72,245.69 L72.06,245.22 L72.40,244.78 L72.74,244.36 L73.08,243.98 L73.42,243.64 L73.76,243.33 L74.09,243.06 L74.43,242.84 L74.77,242.65 L75.11,242.51 L75.45,242.42 L75.79,242.37 L76.13,242.39 L76.46,242.49 L76.80,242.69 L77.14,242.97 L77.48,243.34 L77.82,243.78 L78.16,244.29 L78.50,244.87 L78.84,245.50 L79.17,246.17 L79.51,246.89 L79.85,247.64 L80.19,248.41 L80.53,249.20 L80.87,250.01 L81.21,250.82 L81.54,251.64 L81.88,252.45 L82.22,253.26 L82.56,254.05 L82.90,254.84 L83.24,255.61 L83.58,256.36 L83.91,257.09 L84.25,257.80 L84.59,258.49 L84.93,259.15 L85.27,259.79 L85.61,260.41 L85.95,261.00 L86.28,261.57 L86.62,262.12 L86.96,262.64 L87.30,263.13 L87.64,263.60 L87.98,264.05 L88.32,264.48 L88.65,264.88 L88.99,265.26 L89.33,265.62 L89.67,265.96 L90.01,266.28 L90.35,266.58 L90.69,266.87 L91.02,267.13 L91.36,267.38 L91.70,267.61 L92.04,267.83 L92.38,268.03 L92.72,268.22 L93.06,268.40 L93.39,268.57 L93.73,268.72 L94.07,268.86 L94.41,269.00 L94.75,269.12 L95.09,269.23 L95.43,269.34 L95.76,269.44 L96.10,269.53 L96.44,269.61 L96.78,269.69 L97.12,269.77 L97.46,269.83 L97.80,269.90 L98.14,269.95 L98.47,270.01 L98.81,270.06 L99.15,270.10 L99.49,270.15 L99.83,270.18 L100.17,270.22 L100.51,270.26 L100.84,270.29 L101.18,270.32 L101.52,270.34 L101.86,270.37 L102.20,270.39 L102.54,270.41 L102.88,270.44 L103.21,270.45 L103.55,270.47 L103.89,270.49 L104.23,270.51 L104.57,270.52 L104.91,270.53 L105.25,270.55 L105.58,270.56 L105.92,270.57 L106.26,270.59 L106.60,270.60 L106.94,270.61 L107.28,270.62 L107.62,270.63 L107.95,270.64 L108.29,270.65 L108.63,270.66 L108.97,270.67 L109.31,270.68 L109.65,270.69 L109.99,270.70 L110.32,270.71 L110.66,270.72 L111.00,270.73 L111.34,270.74 L111.68,270.75 L112.02,270.76 L112.36,270.77 L112.69,270.78 L113.03,270.79 L113.37,270.80 L113.71,270.82 L114.05,270.83 L114.39,270.84 L114.73,270.85 L115.06,270.87 L115.40,270.88 L115.74,270.90 L116.08,270.91 L116.42,270.93 L116.76,270.94 L117.10,270.96 L117.44,270.98 L117.77,271.00 L118.11,271.01 L118.45,271.03 L118.79,271.05 L119.13,271.07 L119.47,271.09 L119.81,271.11 L120.14,271.13 L120.48,271.16 L120.82,271.18 L121.16,271.20 L121.50,271.22 L121.84,271.25 L122.18,271.27 L122.51,271.30 L122.85,271.32 L123.19,271.35 L123.53,271.38 L123.87,271.40 L124.21,271.43 L124.55,271.46 L124.88,271.49 L125.22,271.52 L125.56,271.55 L125.90,271.58 L126.24,271.61 L126.58,271.64 L126.92,271.67 L127.25,271.70 L127.59,271.74 L127.93,271.77 L128.27,271.80 L128.61,271.84 L128.95,271.87 L129.29,271.91 L129.62,271.94 L129.96,271.98 L130.30,272.01 L130.64,272.05 L130.98,272.08 L131.32,272.12 L131.66,272.16 L131.99,272.19 L132.33,272.23 L132.67,272.27 L133.01,272.31 L133.35,272.34 L133.69,272.38 L134.03,272.42 L134.36,272.46 L134.70,272.50 L135.04,272.53 L135.38,272.57 L135.72,272.61 L136.06,272.65 L136.40,272.69 L136.74,272.73 L137.07,272.77 L137.41,272.81 L137.75,272.84 L138.09,272.88 L138.43,272.92 L138.77,272.96 L139.11,273.00 L139.44,273.04 L139.78,273.08 L140.12,273.12 L140.46,273.15 L140.80,273.19 L141.14,273.23 L141.48,273.27 L141.81,273.31 L142.15,273.34 L142.49,273.38 L142.83,273.42 L143.17,273.45 L143.51,273.49 L143.85,273.53 L144.18,273.56 L144.52,273.60 L144.86,273.64 L145.20,273.67 L145.54,273.71 L145.88,273.74 L146.22,273.78 L146.55,273.81 L146.89,273.84 L147.23,273.88 L147.57,273.91 L147.91,273.94 L148.25,273.98 L148.59,274.01 L148.92,274.04 L149.26,274.07 L149.60,274.10 L149.94,274.13 L150.28,274.16 L150.62,274.19 L150.96,274.22 L151.29,274.25 L151.63,274.28 L151.97,274.31 L152.31,274.34 L152.65,274.37 L152.99,274.39 L153.33,274.42 L153.66,274.45 L154.00,274.47 L154.34,274.50 L154.68,274.52 L155.02,274.55 L155.36,274.57 L155.70,274.60 L156.04,274.62 L156.37,274.64 L156.71,274.67 L157.05,274.69 L157.39,274.71 L157.73,274.73 L158.07,274.75 L158.41,274.77 L158.74,274.79 L159.08,274.81 L159.42,274.83 L159.76,274.85 L160.10,274.87 L160.44,274.89 L160.78,274.91 L161.11,274.93 L161.45,274.94 L161.79,274.96 L162.13,274.98 L162.47,274.99 L162.81,275.01 L163.15,275.03 L163.48,275.04 L163.82,275.06 L164.16,275.07 L164.50,275.09" fill="none" stroke="#111" stroke-width="3.3"/>
<path d="M29.40,275.26 L29.74,275.23 L30.08,275.19 L30.42,275.16 L30.75,275.12 L31.09,275.08 L31.43,275.04 L31.77,275.00 L32.11,274.96 L32.45,274.92 L32.79,274.87 L33.12,274.83 L33.46,274.78 L33.80,274.74 L34.14,274.69 L34.48,274.64 L34.82,274.59 L35.16,274.54 L35.49,274.49 L35.83,274.44 L36.17,274.39 L36.51,274.33 L36.85,274.28 L37.19,274.22 L37.53,274.17 L37.86,274.11 L38.20,274.05 L38.54,273.99 L38.88,273.94 L39.22,273.88 L39.56,273.82 L39.90,273.76 L40.24,273.69 L40.57,273.63 L40.91,273.57 L41.25,273.51 L41.59,273.44 L41.93,273.38 L42.27,273.31 L42.61,273.24 L42.94,273.18 L43.28,273.11 L43.62,273.04 L43.96,272.97 L44.30,272.89 L44.64,272.82 L44.98,272.75 L45.31,272.67 L45.65,272.60 L45.99,272.52 L46.33,272.44 L46.67,272.35 L47.01,272.27 L47.35,272.19 L47.68,272.10 L48.02,272.01 L48.36,271.92 L48.70,271.82 L49.04,271.72 L49.38,271.62 L49.72,271.52 L50.05,271.41 L50.39,271.30 L50.73,271.19 L51.07,271.07 L51.41,270.95 L51.75,270.83 L52.09,270.70 L52.42,270.57 L52.76,270.43 L53.10,270.29 L53.44,270.15 L53.78,270.00 L54.12,269.85 L54.46,269.69 L54.79,269.53 L55.13,269.37 L55.47,269.20 L55.81,269.03 L56.15,268.85 L56.49,268.67 L56.83,268.49 L57.16,268.30 L57.50,268.11 L57.84,267.91 L58.18,267.71 L58.52,267.51 L58.86,267.31 L59.20,267.11 L59.54,266.90 L59.87,266.69 L60.21,266.48 L60.55,266.28 L60.89,266.07 L61.23,265.86 L61.57,265.65 L61.91,265.44 L62.24,265.24 L62.58,265.03 L62.92,264.83 L63.26,264.64 L63.60,264.44 L63.94,264.25 L64.28,264.07 L64.61,263.89 L64.95,263.72 L65.29,263.56 L65.63,263.40 L65.97,263.25 L66.31,263.10 L66.65,262.97 L66.98,262.85 L67.32,262.73 L67.66,262.63 L68.00,262.53 L68.34,262.45 L68.68,262.37 L69.02,262.31 L69.35,262.26 L69.69,262.22 L70.03,262.20 L70.37,262.18 L70.71,262.18 L71.05,262.19 L71.39,262.22 L71.72,262.24 L72.06,262.28 L72.40,262.32 L72.74,262.37 L73.08,262.43 L73.42,262.49 L73.76,262.56 L74.09,262.63 L74.43,262.71 L74.77,262.80 L75.11,262.89 L75.45,262.99 L75.79,263.10 L76.13,263.21 L76.46,263.32 L76.80,263.44 L77.14,263.57 L77.48,263.70 L77.82,263.83 L78.16,263.97 L78.50,264.12 L78.84,264.27 L79.17,264.42 L79.51,264.57 L79.85,264.73 L80.19,264.89 L80.53,265.05 L80.87,265.22 L81.21,265.39 L81.54,265.56 L81.88,265.73 L82.22,265.90 L82.56,266.08 L82.90,266.26 L83.24,266.43 L83.58,266.61 L83.91,266.79 L84.25,266.96 L84.59,267.14 L84.93,267.32 L85.27,267.49 L85.61,267.67 L85.95,267.84 L86.28,268.02 L86.62,268.19 L86.96,268.36 L87.30,268.53 L87.64,268.69 L87.98,268.86 L88.32,269.02 L88.65,269.18 L88.99,269.34 L89.33,269.49 L89.67,269.64 L90.01,269.79 L90.35,269.94 L90.69,270.08 L91.02,270.22 L91.36,270.36 L91.70,270.49 L92.04,270.62 L92.38,270.74 L92.72,270.87 L93.06,270.99 L93.39,271.10 L93.73,271.22 L94.07,271.32 L94.41,271.43 L94.75,271.53 L95.09,271.63 L95.43,271.73 L95.76,271.82 L96.10,271.91 L96.44,271.99 L96.78,272.08 L97.12,272.15 L97.46,272.23 L97.80,272.30 L98.14,272.37 L98.47,272.44 L98.81,272.50 L99.15,272.56 L99.49,272.62 L99.83,272.68 L100.17,272.73 L100.51,272.78 L100.84,272.83 L101.18,272.87 L101.52,272.92 L101.86,272.96 L102.20,273.00 L102.54,273.03 L102.88,273.07 L103.21,273.10 L103.55,273.13 L103.89,273.16 L104.23,273.19 L104.57,273.22 L104.91,273.24 L105.25,273.27 L105.58,273.29 L105.92,273.31 L106.26,273.33 L106.60,273.35 L106.94,273.37 L107.28,273.38 L107.62,273.40 L107.95,273.42 L108.29,273.43 L108.63,273.45 L108.97,273.46 L109.31,273.47 L109.65,273.49 L109.99,273.50 L110.32,273.51 L110.66,273.52 L111.00,273.54 L111.34,273.55 L111.68,273.56 L112.02,273.57 L112.36,273.58 L112.69,273.59 L113.03,273.60 L113.37,273.61 L113.71,273.63 L114.05,273.64 L114.39,273.65 L114.73,273.66 L115.06,273.67 L115.40,273.68 L115.74,273.70 L116.08,273.71 L116.42,273.72 L116.76,273.73 L117.10,273.75 L117.44,273.76 L117.77,273.77 L118.11,273.79 L118.45,273.80 L118.79,273.82 L119.13,273.83 L119.47,273.85 L119.81,273.86 L120.14,273.88 L120.48,273.89 L120.82,273.91 L121.16,273.93 L121.50,273.94 L121.84,273.96 L122.18,273.98 L122.51,273.99 L122.85,274.01 L123.19,274.03 L123.53,274.05 L123.87,274.07 L124.21,274.09 L124.55,274.11 L124.88,274.13 L125.22,274.15 L125.56,274.17 L125.90,274.19 L126.24,274.21 L126.58,274.23 L126.92,274.25 L127.25,274.27 L127.59,274.29 L127.93,274.31 L128.27,274.34 L128.61,274.36 L128.95,274.38 L129.29,274.40 L129.62,274.42 L129.96,274.45 L130.30,274.47 L130.64,274.49 L130.98,274.51 L131.32,274.53 L131.66,274.56 L131.99,274.58 L132.33,274.60 L132.67,274.62 L133.01,274.65 L133.35,274.67 L133.69,274.69 L134.03,274.71 L134.36,274.74 L134.70,274.76 L135.04,274.78 L135.38,274.80 L135.72,274.82 L136.06,274.85 L136.40,274.87 L136.74,274.89 L137.07,274.91 L137.41,274.93 L137.75,274.95 L138.09,274.97 L138.43,274.99 L138.77,275.01 L139.11,275.03 L139.44,275.06 L139.78,275.07 L140.12,275.09 L140.46,275.11 L140.80,275.13 L141.14,275.15 L141.48,275.17 L141.81,275.19 L142.15,275.21 L142.49,275.23 L142.83,275.24 L143.17,275.26 L143.51,275.28 L143.85,275.30 L144.18,275.31 L144.52,275.33 L144.86,275.35 L145.20,275.36 L145.54,275.38 L145.88,275.40 L146.22,275.41 L146.55,275.43 L146.89,275.44 L147.23,275.46 L147.57,275.47 L147.91,275.48 L148.25,275.50 L148.59,275.51 L148.92,275.52 L149.26,275.54 L149.60,275.55 L149.94,275.56 L150.28,275.57 L150.62,275.59 L150.96,275.60 L151.29,275.61 L151.63,275.62 L151.97,275.63 L152.31,275.64 L152.65,275.65 L152.99,275.66 L153.33,275.67 L153.66,275.68 L154.00,275.69 L154.34,275.70 L154.68,275.71 L155.02,275.72 L155.36,275.73 L155.70,275.74 L156.04,275.74 L156.37,275.75 L156.71,275.76 L157.05,275.77 L157.39,275.77 L157.73,275.78 L158.07,275.79 L158.41,275.80 L158.74,275.80 L159.08,275.81 L159.42,275.81 L159.76,275.82 L160.10,275.83 L160.44,275.83 L160.78,275.84 L161.11,275.84 L161.45,275.85 L161.79,275.85 L162.13,275.86 L162.47,275.86 L162.81,275.87 L163.15,275.87 L163.48,275.87 L163.82,275.88 L164.16,275.88 L164.50,275.89" fill="none" stroke="#16c816" stroke-width="3.2"/>
<circle cx="100.5" cy="176.4" r="2.4" fill="#111"/>
<circle cx="100.5" cy="185.9" r="2.4" fill="#16c816"/>
<text x="110" y="179.2" font-size="7.9" fill="#111" font-weight="normal" text-anchor="start" textLength="44.2" lengthAdjust="spacingAndGlyphs" class="h"  >As-prepared</text>
<text x="110" y="188.7" font-size="7.9" fill="#111" font-weight="normal" text-anchor="start" textLength="47.4" lengthAdjust="spacingAndGlyphs" class="h"  >NADH-doped</text>
<rect x="204.9" y="157.1" width="16.3" height="16.3" fill="#a3a3a7"/>
<text x="213" y="169.8" font-size="15.5" fill="#fff" font-weight="bold" text-anchor="middle"  >e</text>
<line x1="238" y1="166.4" x2="398.6" y2="166.4" stroke="#333" stroke-width="1"/>
<line x1="238" y1="166.4" x2="238" y2="277.5" stroke="#555" stroke-width="1.3"/>
<line x1="398.8" y1="166.4" x2="398.8" y2="277.5" stroke="#a8a8a8" stroke-width="1.7"/>
<line x1="238" y1="277.5" x2="398.6" y2="277.5" stroke="#333" stroke-width="1"/>
<line x1="254.30" y1="277.5" x2="254.30" y2="275.3" stroke="#333" stroke-width="0.7"/>
<line x1="254.30" y1="166.4" x2="254.30" y2="168.4" stroke="#333" stroke-width="0.7"/>
<line x1="272.60" y1="277.5" x2="272.60" y2="275.3" stroke="#333" stroke-width="0.7"/>
<line x1="272.60" y1="166.4" x2="272.60" y2="168.4" stroke="#333" stroke-width="0.7"/>
<line x1="290.90" y1="277.5" x2="290.90" y2="275.3" stroke="#333" stroke-width="0.7"/>
<line x1="290.90" y1="166.4" x2="290.90" y2="168.4" stroke="#333" stroke-width="0.7"/>
<line x1="309.20" y1="277.5" x2="309.20" y2="275.3" stroke="#333" stroke-width="0.7"/>
<line x1="309.20" y1="166.4" x2="309.20" y2="168.4" stroke="#333" stroke-width="0.7"/>
<line x1="327.50" y1="277.5" x2="327.50" y2="275.3" stroke="#333" stroke-width="0.7"/>
<line x1="327.50" y1="166.4" x2="327.50" y2="168.4" stroke="#333" stroke-width="0.7"/>
<line x1="345.80" y1="277.5" x2="345.80" y2="275.3" stroke="#333" stroke-width="0.7"/>
<line x1="345.80" y1="166.4" x2="345.80" y2="168.4" stroke="#333" stroke-width="0.7"/>
<line x1="364.10" y1="277.5" x2="364.10" y2="275.3" stroke="#333" stroke-width="0.7"/>
<line x1="364.10" y1="166.4" x2="364.10" y2="168.4" stroke="#333" stroke-width="0.7"/>
<line x1="382.40" y1="277.5" x2="382.40" y2="275.3" stroke="#333" stroke-width="0.7"/>
<line x1="382.40" y1="166.4" x2="382.40" y2="168.4" stroke="#333" stroke-width="0.7"/>
<line x1="238" y1="277.50" x2="240" y2="277.50" stroke="#333" stroke-width="0.7"/>
<line x1="398.6" y1="277.50" x2="396.6" y2="277.50" stroke="#333" stroke-width="0.7"/>
<line x1="236" y1="277.50" x2="238" y2="277.50" stroke="#333" stroke-width="0.7"/>
<text x="235" y="279.90" font-size="6.6" fill="#111" font-weight="bold" text-anchor="end"  >0</text>
<line x1="238" y1="266.90" x2="239.3" y2="266.90" stroke="#333" stroke-width="0.7"/>
<line x1="398.6" y1="266.90" x2="397.3" y2="266.90" stroke="#333" stroke-width="0.7"/>
<line x1="238" y1="256.30" x2="240" y2="256.30" stroke="#333" stroke-width="0.7"/>
<line x1="398.6" y1="256.30" x2="396.6" y2="256.30" stroke="#333" stroke-width="0.7"/>
<line x1="236" y1="256.30" x2="238" y2="256.30" stroke="#333" stroke-width="0.7"/>
<text x="235" y="258.70" font-size="6.6" fill="#111" font-weight="bold" text-anchor="end"  >200</text>
<line x1="238" y1="245.70" x2="239.3" y2="245.70" stroke="#333" stroke-width="0.7"/>
<line x1="398.6" y1="245.70" x2="397.3" y2="245.70" stroke="#333" stroke-width="0.7"/>
<line x1="238" y1="235.10" x2="240" y2="235.10" stroke="#333" stroke-width="0.7"/>
<line x1="398.6" y1="235.10" x2="396.6" y2="235.10" stroke="#333" stroke-width="0.7"/>
<line x1="236" y1="235.10" x2="238" y2="235.10" stroke="#333" stroke-width="0.7"/>
<text x="235" y="237.50" font-size="6.6" fill="#111" font-weight="bold" text-anchor="end"  >400</text>
<line x1="238" y1="224.50" x2="239.3" y2="224.50" stroke="#333" stroke-width="0.7"/>
<line x1="398.6" y1="224.50" x2="397.3" y2="224.50" stroke="#333" stroke-width="0.7"/>
<line x1="238" y1="213.90" x2="240" y2="213.90" stroke="#333" stroke-width="0.7"/>
<line x1="398.6" y1="213.90" x2="396.6" y2="213.90" stroke="#333" stroke-width="0.7"/>
<line x1="236" y1="213.90" x2="238" y2="213.90" stroke="#333" stroke-width="0.7"/>
<text x="235" y="216.30" font-size="6.6" fill="#111" font-weight="bold" text-anchor="end"  >600</text>
<line x1="238" y1="203.30" x2="239.3" y2="203.30" stroke="#333" stroke-width="0.7"/>
<line x1="398.6" y1="203.30" x2="397.3" y2="203.30" stroke="#333" stroke-width="0.7"/>
<line x1="238" y1="192.70" x2="240" y2="192.70" stroke="#333" stroke-width="0.7"/>
<line x1="398.6" y1="192.70" x2="396.6" y2="192.70" stroke="#333" stroke-width="0.7"/>
<line x1="236" y1="192.70" x2="238" y2="192.70" stroke="#333" stroke-width="0.7"/>
<text x="235" y="195.10" font-size="6.6" fill="#111" font-weight="bold" text-anchor="end"  >800</text>
<line x1="238" y1="182.10" x2="239.3" y2="182.10" stroke="#333" stroke-width="0.7"/>
<line x1="398.6" y1="182.10" x2="397.3" y2="182.10" stroke="#333" stroke-width="0.7"/>
<line x1="238" y1="171.50" x2="240" y2="171.50" stroke="#333" stroke-width="0.7"/>
<line x1="398.6" y1="171.50" x2="396.6" y2="171.50" stroke="#333" stroke-width="0.7"/>
<line x1="236" y1="171.50" x2="238" y2="171.50" stroke="#333" stroke-width="0.7"/>
<text x="235" y="173.90" font-size="6.6" fill="#111" font-weight="bold" text-anchor="end"  >1000</text>
<text x="254.30" y="286.1" font-size="6.3" fill="#111" font-weight="bold" text-anchor="middle"  >1.7</text>
<text x="290.90" y="286.1" font-size="6.3" fill="#111" font-weight="bold" text-anchor="middle"  >1.8</text>
<text x="327.50" y="286.1" font-size="6.3" fill="#111" font-weight="bold" text-anchor="middle"  >1.9</text>
<text x="364.10" y="286.1" font-size="6.3" fill="#111" font-weight="bold" text-anchor="middle"  >2.0</text>
<text x="317.4" y="293.7" font-size="6" fill="#111" font-weight="bold" text-anchor="middle" textLength="30.1" lengthAdjust="spacingAndGlyphs"  >Energy (eV)</text>
<text transform="translate(220.1,223.3) rotate(-90)" x="0" y="0" font-size="6.1" font-weight="bold" fill="#111" text-anchor="middle" textLength="50" lengthAdjust="spacingAndGlyphs">PL intensity (arb. u.)</text>
<text x="274.8" y="177.5" font-size="5.6" fill="#333" font-weight="bold" text-anchor="start"  >L<tspan font-size="4" dy="1.6">x</tspan></text>
<text x="318" y="177.4" font-size="6.2" fill="#111" font-weight="bold" text-anchor="middle"  >A</text>
<text x="376.9" y="245.3" font-size="6.2" fill="#111" font-weight="bold" text-anchor="middle"  >B</text>
<text x="258" y="235.5" font-size="5.8" fill="#444" font-weight="bold" text-anchor="start"  >L</text>
<text x="352.5" y="177.5" font-size="6.2" fill="#111" font-weight="normal" text-anchor="start" class="h"  >8.6 · 10<tspan font-size="3.6" dy="-2.6">13</tspan><tspan dy="2.6"> cm</tspan><tspan font-size="3.6" dy="-2.6">-2</tspan></text>
<line x1="352" y1="190.80" x2="366.7" y2="190.80" stroke="#222222" stroke-width="1.0"/>
<text x="368.3" y="193.10" font-size="6.3" fill="#111" font-weight="bold" text-anchor="start"  >250 K</text>
<line x1="352" y1="198.65" x2="366.7" y2="198.65" stroke="#6e2424" stroke-width="1.0"/>
<text x="368.3" y="200.95" font-size="6.3" fill="#111" font-weight="bold" text-anchor="start"  >160 K</text>
<line x1="352" y1="206.50" x2="366.7" y2="206.50" stroke="#9c1c1c" stroke-width="1.1"/>
<text x="368.3" y="208.80" font-size="6.3" fill="#111" font-weight="bold" text-anchor="start"  >100 K</text>
<line x1="352" y1="214.35" x2="366.7" y2="214.35" stroke="#d82a2a" stroke-width="1.4"/>
<text x="368.3" y="216.65" font-size="6.3" fill="#111" font-weight="bold" text-anchor="start"  >50 K</text>
<line x1="352" y1="222.20" x2="366.7" y2="222.20" stroke="#ff2a2a" stroke-width="1.7"/>
<text x="368.3" y="224.50" font-size="6.3" fill="#111" font-weight="bold" text-anchor="start"  >10 K</text>
<path d="M238.00,275.29 L238.40,275.27 L238.81,275.26 L239.21,275.24 L239.61,275.22 L240.01,275.20 L240.42,275.18 L240.82,275.16 L241.22,275.14 L241.62,275.12 L242.03,275.09 L242.43,275.07 L242.83,275.05 L243.23,275.03 L243.64,275.00 L244.04,274.98 L244.44,274.95 L244.84,274.93 L245.25,274.90 L245.65,274.87 L246.05,274.84 L246.45,274.82 L246.86,274.79 L247.26,274.76 L247.66,274.73 L248.06,274.69 L248.47,274.66 L248.87,274.63 L249.27,274.59 L249.67,274.56 L250.08,274.52 L250.48,274.49 L250.88,274.45 L251.28,274.41 L251.69,274.37 L252.09,274.33 L252.49,274.29 L252.89,274.24 L253.30,274.20 L253.70,274.15 L254.10,274.11 L254.50,274.06 L254.91,274.01 L255.31,273.96 L255.71,273.91 L256.11,273.85 L256.52,273.80 L256.92,273.74 L257.32,273.68 L257.72,273.62 L258.13,273.56 L258.53,273.50 L258.93,273.43 L259.33,273.36 L259.74,273.30 L260.14,273.23 L260.54,273.15 L260.94,273.08 L261.35,273.01 L261.75,272.93 L262.15,272.85 L262.55,272.77 L262.96,272.69 L263.36,272.60 L263.76,272.52 L264.16,272.43 L264.57,272.34 L264.97,272.25 L265.37,272.16 L265.77,272.07 L266.18,271.98 L266.58,271.88 L266.98,271.79 L267.38,271.69 L267.79,271.60 L268.19,271.50 L268.59,271.41 L268.99,271.31 L269.40,271.22 L269.80,271.12 L270.20,271.03 L270.60,270.94 L271.01,270.85 L271.41,270.76 L271.81,270.68 L272.21,270.59 L272.62,270.51 L273.02,270.43 L273.42,270.36 L273.82,270.28 L274.23,270.21 L274.63,270.14 L275.03,270.07 L275.43,270.01 L275.84,269.95 L276.24,269.89 L276.64,269.83 L277.04,269.77 L277.45,269.72 L277.85,269.66 L278.25,269.61 L278.65,269.56 L279.06,269.50 L279.46,269.45 L279.86,269.40 L280.26,269.34 L280.67,269.28 L281.07,269.23 L281.47,269.16 L281.87,269.10 L282.28,269.03 L282.68,268.96 L283.08,268.89 L283.48,268.81 L283.89,268.72 L284.29,268.63 L284.69,268.54 L285.09,268.44 L285.50,268.34 L285.90,268.23 L286.30,268.11 L286.70,267.99 L287.11,267.86 L287.51,267.72 L287.91,267.58 L288.31,267.43 L288.72,267.28 L289.12,267.11 L289.52,266.94 L289.92,266.77 L290.33,266.58 L290.73,266.39 L291.13,266.19 L291.53,265.99 L291.94,265.78 L292.34,265.56 L292.74,265.34 L293.14,265.11 L293.55,264.88 L293.95,264.65 L294.35,264.41 L294.75,264.16 L295.16,263.92 L295.56,263.68 L295.96,263.43 L296.36,263.19 L296.77,262.95 L297.17,262.71 L297.57,262.48 L297.97,262.25 L298.38,262.03 L298.78,261.82 L299.18,261.63 L299.58,261.44 L299.99,261.27 L300.39,261.12 L300.79,260.98 L301.19,260.86 L301.60,260.76 L302.00,260.68 L302.40,260.62 L302.80,260.58 L303.21,260.57 L303.61,260.57 L304.01,260.59 L304.41,260.61 L304.82,260.65 L305.22,260.69 L305.62,260.74 L306.02,260.80 L306.43,260.87 L306.83,260.94 L307.23,261.02 L307.63,261.11 L308.04,261.20 L308.44,261.31 L308.84,261.42 L309.24,261.53 L309.65,261.65 L310.05,261.78 L310.45,261.91 L310.85,262.04 L311.26,262.18 L311.66,262.32 L312.06,262.47 L312.46,262.62 L312.87,262.77 L313.27,262.93 L313.67,263.08 L314.07,263.24 L314.48,263.40 L314.88,263.56 L315.28,263.73 L315.68,263.89 L316.09,264.05 L316.49,264.22 L316.89,264.38 L317.29,264.54 L317.70,264.71 L318.10,264.87 L318.50,265.03 L318.90,265.19 L319.31,265.35 L319.71,265.50 L320.11,265.66 L320.51,265.81 L320.92,265.96 L321.32,266.11 L321.72,266.26 L322.12,266.40 L322.53,266.55 L322.93,266.69 L323.33,266.82 L323.73,266.96 L324.14,267.09 L324.54,267.22 L324.94,267.35 L325.34,267.48 L325.75,267.60 L326.15,267.72 L326.55,267.84 L326.95,267.96 L327.36,268.07 L327.76,268.18 L328.16,268.29 L328.56,268.39 L328.97,268.50 L329.37,268.60 L329.77,268.69 L330.17,268.79 L330.58,268.88 L330.98,268.97 L331.38,269.06 L331.78,269.15 L332.19,269.23 L332.59,269.31 L332.99,269.39 L333.39,269.47 L333.80,269.54 L334.20,269.61 L334.60,269.68 L335.00,269.75 L335.41,269.82 L335.81,269.88 L336.21,269.94 L336.61,270.00 L337.02,270.06 L337.42,270.11 L337.82,270.17 L338.22,270.22 L338.63,270.27 L339.03,270.32 L339.43,270.36 L339.83,270.41 L340.24,270.45 L340.64,270.49 L341.04,270.53 L341.44,270.57 L341.85,270.61 L342.25,270.64 L342.65,270.67 L343.05,270.71 L343.46,270.74 L343.86,270.76 L344.26,270.79 L344.66,270.82 L345.07,270.84 L345.47,270.86 L345.87,270.89 L346.27,270.91 L346.68,270.93 L347.08,270.95 L347.48,270.96 L347.88,270.98 L348.29,270.99 L348.69,271.01 L349.09,271.02 L349.49,271.03 L349.90,271.04 L350.30,271.05 L350.70,271.06 L351.10,271.07 L351.51,271.08 L351.91,271.09 L352.31,271.09 L352.71,271.10 L353.12,271.10 L353.52,271.11 L353.92,271.11 L354.32,271.11 L354.73,271.12 L355.13,271.12 L355.53,271.12 L355.93,271.12 L356.34,271.13 L356.74,271.13 L357.14,271.13 L357.54,271.13 L357.95,271.13 L358.35,271.13 L358.75,271.13 L359.15,271.14 L359.56,271.14 L359.96,271.14 L360.36,271.14 L360.76,271.15 L361.17,271.15 L361.57,271.15 L361.97,271.16 L362.37,271.16 L362.78,271.16 L363.18,271.17 L363.58,271.18 L363.98,271.18 L364.39,271.19 L364.79,271.20 L365.19,271.21 L365.59,271.22 L366.00,271.23 L366.40,271.24 L366.80,271.26 L367.20,271.27 L367.61,271.28 L368.01,271.30 L368.41,271.32 L368.81,271.33 L369.22,271.35 L369.62,271.37 L370.02,271.39 L370.42,271.42 L370.83,271.44 L371.23,271.46 L371.63,271.49 L372.03,271.51 L372.44,271.54 L372.84,271.57 L373.24,271.60 L373.64,271.63 L374.05,271.66 L374.45,271.69 L374.85,271.72 L375.25,271.75 L375.66,271.79 L376.06,271.82 L376.46,271.86 L376.86,271.89 L377.27,271.93 L377.67,271.97 L378.07,272.00 L378.47,272.04 L378.88,272.08 L379.28,272.12 L379.68,272.16 L380.08,272.20 L380.49,272.24 L380.89,272.28 L381.29,272.32 L381.69,272.37 L382.10,272.41 L382.50,272.45 L382.90,272.49 L383.30,272.53 L383.71,272.57 L384.11,272.62 L384.51,272.66 L384.91,272.70 L385.32,272.74 L385.72,272.78 L386.12,272.83 L386.52,272.87 L386.93,272.91 L387.33,272.95 L387.73,272.99 L388.13,273.03 L388.54,273.07 L388.94,273.12 L389.34,273.16 L389.74,273.20 L390.15,273.24 L390.55,273.27 L390.95,273.31 L391.35,273.35 L391.76,273.39 L392.16,273.43 L392.56,273.47 L392.96,273.50 L393.37,273.54 L393.77,273.58 L394.17,273.61 L394.57,273.65 L394.98,273.69 L395.38,273.72 L395.78,273.76 L396.18,273.79 L396.59,273.82 L396.99,273.86 L397.39,273.89 L397.79,273.92 L398.20,273.95 L398.60,273.99" fill="none" stroke="#222222" stroke-width="1.3"/>
<path d="M238.00,268.06 L238.40,267.97 L238.81,267.88 L239.21,267.79 L239.61,267.70 L240.01,267.61 L240.42,267.53 L240.82,267.44 L241.22,267.35 L241.62,267.26 L242.03,267.18 L242.43,267.09 L242.83,267.00 L243.23,266.92 L243.64,266.83 L244.04,266.75 L244.44,266.66 L244.84,266.58 L245.25,266.49 L245.65,266.41 L246.05,266.32 L246.45,266.24 L246.86,266.16 L247.26,266.08 L247.66,265.99 L248.06,265.91 L248.47,265.83 L248.87,265.75 L249.27,265.67 L249.67,265.59 L250.08,265.51 L250.48,265.43 L250.88,265.36 L251.28,265.28 L251.69,265.20 L252.09,265.13 L252.49,265.05 L252.89,264.98 L253.30,264.90 L253.70,264.83 L254.10,264.76 L254.50,264.68 L254.91,264.61 L255.31,264.54 L255.71,264.47 L256.11,264.40 L256.52,264.33 L256.92,264.26 L257.32,264.19 L257.72,264.12 L258.13,264.05 L258.53,263.98 L258.93,263.92 L259.33,263.85 L259.74,263.78 L260.14,263.71 L260.54,263.65 L260.94,263.58 L261.35,263.51 L261.75,263.45 L262.15,263.38 L262.55,263.31 L262.96,263.24 L263.36,263.17 L263.76,263.10 L264.16,263.04 L264.57,262.96 L264.97,262.89 L265.37,262.82 L265.77,262.75 L266.18,262.67 L266.58,262.59 L266.98,262.52 L267.38,262.44 L267.79,262.35 L268.19,262.27 L268.59,262.19 L268.99,262.10 L269.40,262.01 L269.80,261.92 L270.20,261.82 L270.60,261.73 L271.01,261.63 L271.41,261.53 L271.81,261.44 L272.21,261.34 L272.62,261.25 L273.02,261.15 L273.42,261.06 L273.82,260.98 L274.23,260.90 L274.63,260.82 L275.03,260.76 L275.43,260.70 L275.84,260.66 L276.24,260.62 L276.64,260.60 L277.04,260.59 L277.45,260.59 L277.85,260.61 L278.25,260.63 L278.65,260.67 L279.06,260.71 L279.46,260.76 L279.86,260.82 L280.26,260.88 L280.67,260.95 L281.07,261.01 L281.47,261.08 L281.87,261.15 L282.28,261.22 L282.68,261.28 L283.08,261.34 L283.48,261.40 L283.89,261.46 L284.29,261.51 L284.69,261.56 L285.09,261.60 L285.50,261.64 L285.90,261.67 L286.30,261.70 L286.70,261.73 L287.11,261.75 L287.51,261.77 L287.91,261.78 L288.31,261.78 L288.72,261.78 L289.12,261.78 L289.52,261.77 L289.92,261.76 L290.33,261.74 L290.73,261.72 L291.13,261.69 L291.53,261.66 L291.94,261.62 L292.34,261.57 L292.74,261.52 L293.14,261.46 L293.55,261.40 L293.95,261.33 L294.35,261.25 L294.75,261.16 L295.16,261.07 L295.56,260.97 L295.96,260.86 L296.36,260.75 L296.77,260.62 L297.17,260.48 L297.57,260.34 L297.97,260.18 L298.38,260.01 L298.78,259.83 L299.18,259.64 L299.58,259.43 L299.99,259.21 L300.39,258.98 L300.79,258.72 L301.19,258.46 L301.60,258.17 L302.00,257.87 L302.40,257.54 L302.80,257.20 L303.21,256.83 L303.61,256.45 L304.01,256.03 L304.41,255.60 L304.82,255.13 L305.22,254.64 L305.62,254.12 L306.02,253.58 L306.43,253.00 L306.83,252.39 L307.23,251.76 L307.63,251.09 L308.04,250.40 L308.44,249.68 L308.84,248.94 L309.24,248.17 L309.65,247.38 L310.05,246.58 L310.45,245.77 L310.85,244.96 L311.26,244.16 L311.66,243.37 L312.06,242.61 L312.46,241.88 L312.87,241.20 L313.27,240.59 L313.67,240.05 L314.07,239.59 L314.48,239.23 L314.88,238.97 L315.28,238.82 L315.68,238.78 L316.09,238.85 L316.49,238.98 L316.89,239.18 L317.29,239.45 L317.70,239.78 L318.10,240.16 L318.50,240.61 L318.90,241.10 L319.31,241.63 L319.71,242.20 L320.11,242.81 L320.51,243.44 L320.92,244.09 L321.32,244.76 L321.72,245.43 L322.12,246.12 L322.53,246.80 L322.93,247.49 L323.33,248.17 L323.73,248.84 L324.14,249.50 L324.54,250.15 L324.94,250.78 L325.34,251.41 L325.75,252.01 L326.15,252.60 L326.55,253.17 L326.95,253.72 L327.36,254.25 L327.76,254.77 L328.16,255.26 L328.56,255.74 L328.97,256.20 L329.37,256.65 L329.77,257.07 L330.17,257.48 L330.58,257.88 L330.98,258.26 L331.38,258.62 L331.78,258.97 L332.19,259.31 L332.59,259.63 L332.99,259.94 L333.39,260.23 L333.80,260.51 L334.20,260.79 L334.60,261.05 L335.00,261.30 L335.41,261.54 L335.81,261.77 L336.21,261.99 L336.61,262.20 L337.02,262.40 L337.42,262.60 L337.82,262.79 L338.22,262.96 L338.63,263.14 L339.03,263.30 L339.43,263.46 L339.83,263.61 L340.24,263.75 L340.64,263.89 L341.04,264.03 L341.44,264.15 L341.85,264.28 L342.25,264.39 L342.65,264.50 L343.05,264.61 L343.46,264.71 L343.86,264.81 L344.26,264.90 L344.66,264.99 L345.07,265.08 L345.47,265.16 L345.87,265.23 L346.27,265.30 L346.68,265.37 L347.08,265.44 L347.48,265.50 L347.88,265.56 L348.29,265.61 L348.69,265.66 L349.09,265.71 L349.49,265.75 L349.90,265.79 L350.30,265.83 L350.70,265.87 L351.10,265.90 L351.51,265.93 L351.91,265.95 L352.31,265.97 L352.71,265.99 L353.12,266.01 L353.52,266.02 L353.92,266.03 L354.32,266.04 L354.73,266.04 L355.13,266.05 L355.53,266.05 L355.93,266.04 L356.34,266.03 L356.74,266.03 L357.14,266.01 L357.54,266.00 L357.95,265.98 L358.35,265.96 L358.75,265.94 L359.15,265.91 L359.56,265.88 L359.96,265.85 L360.36,265.82 L360.76,265.79 L361.17,265.75 L361.57,265.71 L361.97,265.67 L362.37,265.63 L362.78,265.58 L363.18,265.54 L363.58,265.49 L363.98,265.44 L364.39,265.39 L364.79,265.34 L365.19,265.30 L365.59,265.25 L366.00,265.20 L366.40,265.15 L366.80,265.11 L367.20,265.06 L367.61,265.02 L368.01,264.98 L368.41,264.95 L368.81,264.91 L369.22,264.88 L369.62,264.86 L370.02,264.84 L370.42,264.82 L370.83,264.81 L371.23,264.80 L371.63,264.80 L372.03,264.81 L372.44,264.82 L372.84,264.83 L373.24,264.86 L373.64,264.88 L374.05,264.92 L374.45,264.95 L374.85,265.00 L375.25,265.04 L375.66,265.10 L376.06,265.15 L376.46,265.21 L376.86,265.28 L377.27,265.34 L377.67,265.41 L378.07,265.49 L378.47,265.56 L378.88,265.64 L379.28,265.71 L379.68,265.79 L380.08,265.87 L380.49,265.95 L380.89,266.03 L381.29,266.11 L381.69,266.19 L382.10,266.27 L382.50,266.34 L382.90,266.42 L383.30,266.50 L383.71,266.57 L384.11,266.64 L384.51,266.71 L384.91,266.78 L385.32,266.85 L385.72,266.92 L386.12,266.98 L386.52,267.05 L386.93,267.11 L387.33,267.17 L387.73,267.23 L388.13,267.28 L388.54,267.34 L388.94,267.39 L389.34,267.44 L389.74,267.49 L390.15,267.54 L390.55,267.58 L390.95,267.63 L391.35,267.67 L391.76,267.71 L392.16,267.75 L392.56,267.79 L392.96,267.83 L393.37,267.86 L393.77,267.90 L394.17,267.93 L394.57,267.96 L394.98,267.99 L395.38,268.02 L395.78,268.05 L396.18,268.08 L396.59,268.10 L396.99,268.13 L397.39,268.15 L397.79,268.17 L398.20,268.20 L398.60,268.22" fill="none" stroke="#6e2424" stroke-width="1.3"/>
<path d="M238.00,263.44 L238.40,263.39 L238.81,263.33 L239.21,263.27 L239.61,263.21 L240.01,263.14 L240.42,263.07 L240.82,263.01 L241.22,262.93 L241.62,262.86 L242.03,262.78 L242.43,262.71 L242.83,262.62 L243.23,262.54 L243.64,262.45 L244.04,262.36 L244.44,262.27 L244.84,262.17 L245.25,262.07 L245.65,261.96 L246.05,261.85 L246.45,261.74 L246.86,261.62 L247.26,261.50 L247.66,261.37 L248.06,261.24 L248.47,261.11 L248.87,260.97 L249.27,260.83 L249.67,260.68 L250.08,260.53 L250.48,260.38 L250.88,260.22 L251.28,260.06 L251.69,259.89 L252.09,259.73 L252.49,259.56 L252.89,259.39 L253.30,259.22 L253.70,259.04 L254.10,258.87 L254.50,258.71 L254.91,258.54 L255.31,258.38 L255.71,258.22 L256.11,258.06 L256.52,257.91 L256.92,257.76 L257.32,257.62 L257.72,257.48 L258.13,257.35 L258.53,257.22 L258.93,257.10 L259.33,256.98 L259.74,256.86 L260.14,256.74 L260.54,256.62 L260.94,256.50 L261.35,256.37 L261.75,256.25 L262.15,256.12 L262.55,255.99 L262.96,255.85 L263.36,255.71 L263.76,255.56 L264.16,255.40 L264.57,255.23 L264.97,255.06 L265.37,254.89 L265.77,254.70 L266.18,254.51 L266.58,254.31 L266.98,254.10 L267.38,253.89 L267.79,253.67 L268.19,253.45 L268.59,253.22 L268.99,252.99 L269.40,252.76 L269.80,252.52 L270.20,252.28 L270.60,252.04 L271.01,251.81 L271.41,251.57 L271.81,251.34 L272.21,251.12 L272.62,250.90 L273.02,250.69 L273.42,250.48 L273.82,250.29 L274.23,250.11 L274.63,249.94 L275.03,249.79 L275.43,249.66 L275.84,249.54 L276.24,249.44 L276.64,249.36 L277.04,249.30 L277.45,249.26 L277.85,249.24 L278.25,249.24 L278.65,249.26 L279.06,249.30 L279.46,249.36 L279.86,249.44 L280.26,249.54 L280.67,249.65 L281.07,249.79 L281.47,249.94 L281.87,250.10 L282.28,250.28 L282.68,250.46 L283.08,250.66 L283.48,250.87 L283.89,251.08 L284.29,251.30 L284.69,251.52 L285.09,251.75 L285.50,251.98 L285.90,252.21 L286.30,252.44 L286.70,252.67 L287.11,252.89 L287.51,253.11 L287.91,253.33 L288.31,253.55 L288.72,253.75 L289.12,253.96 L289.52,254.15 L289.92,254.34 L290.33,254.52 L290.73,254.69 L291.13,254.85 L291.53,255.01 L291.94,255.15 L292.34,255.29 L292.74,255.41 L293.14,255.53 L293.55,255.63 L293.95,255.73 L294.35,255.81 L294.75,255.88 L295.16,255.93 L295.56,255.97 L295.96,256.00 L296.36,256.01 L296.77,256.01 L297.17,255.99 L297.57,255.95 L297.97,255.89 L298.38,255.81 L298.78,255.71 L299.18,255.58 L299.58,255.43 L299.99,255.25 L300.39,255.04 L300.79,254.79 L301.19,254.51 L301.60,254.20 L302.00,253.84 L302.40,253.45 L302.80,253.00 L303.21,252.51 L303.61,251.97 L304.01,251.37 L304.41,250.72 L304.82,250.00 L305.22,249.23 L305.62,248.38 L306.02,247.48 L306.43,246.50 L306.83,245.46 L307.23,244.34 L307.63,243.15 L308.04,241.89 L308.44,240.57 L308.84,239.17 L309.24,237.71 L309.65,236.19 L310.05,234.61 L310.45,232.98 L310.85,231.31 L311.26,229.61 L311.66,227.89 L312.06,226.17 L312.46,224.46 L312.87,222.78 L313.27,221.15 L313.67,219.60 L314.07,218.16 L314.48,216.84 L314.88,215.69 L315.28,214.72 L315.68,213.95 L316.09,213.42 L316.49,213.13 L316.89,213.08 L317.29,213.18 L317.70,213.36 L318.10,213.63 L318.50,213.98 L318.90,214.41 L319.31,214.92 L319.71,215.50 L320.11,216.15 L320.51,216.86 L320.92,217.63 L321.32,218.46 L321.72,219.32 L322.12,220.23 L322.53,221.18 L322.93,222.16 L323.33,223.16 L323.73,224.18 L324.14,225.22 L324.54,226.27 L324.94,227.32 L325.34,228.38 L325.75,229.44 L326.15,230.50 L326.55,231.55 L326.95,232.59 L327.36,233.62 L327.76,234.64 L328.16,235.64 L328.56,236.62 L328.97,237.59 L329.37,238.54 L329.77,239.47 L330.17,240.37 L330.58,241.26 L330.98,242.12 L331.38,242.95 L331.78,243.77 L332.19,244.56 L332.59,245.32 L332.99,246.06 L333.39,246.78 L333.80,247.47 L334.20,248.14 L334.60,248.79 L335.00,249.41 L335.41,250.00 L335.81,250.58 L336.21,251.13 L336.61,251.66 L337.02,252.16 L337.42,252.65 L337.82,253.11 L338.22,253.56 L338.63,253.98 L339.03,254.38 L339.43,254.77 L339.83,255.14 L340.24,255.49 L340.64,255.82 L341.04,256.14 L341.44,256.44 L341.85,256.72 L342.25,257.00 L342.65,257.25 L343.05,257.50 L343.46,257.73 L343.86,257.95 L344.26,258.15 L344.66,258.35 L345.07,258.54 L345.47,258.71 L345.87,258.87 L346.27,259.03 L346.68,259.18 L347.08,259.31 L347.48,259.44 L347.88,259.56 L348.29,259.68 L348.69,259.78 L349.09,259.88 L349.49,259.98 L349.90,260.06 L350.30,260.14 L350.70,260.22 L351.10,260.29 L351.51,260.35 L351.91,260.41 L352.31,260.46 L352.71,260.51 L353.12,260.55 L353.52,260.59 L353.92,260.62 L354.32,260.65 L354.73,260.68 L355.13,260.70 L355.53,260.71 L355.93,260.73 L356.34,260.74 L356.74,260.74 L357.14,260.74 L357.54,260.74 L357.95,260.73 L358.35,260.72 L358.75,260.70 L359.15,260.69 L359.56,260.66 L359.96,260.64 L360.36,260.61 L360.76,260.57 L361.17,260.54 L361.57,260.50 L361.97,260.45 L362.37,260.41 L362.78,260.36 L363.18,260.30 L363.58,260.25 L363.98,260.19 L364.39,260.12 L364.79,260.06 L365.19,259.99 L365.59,259.92 L366.00,259.85 L366.40,259.77 L366.80,259.70 L367.20,259.62 L367.61,259.55 L368.01,259.47 L368.41,259.39 L368.81,259.32 L369.22,259.24 L369.62,259.17 L370.02,259.10 L370.42,259.03 L370.83,258.96 L371.23,258.90 L371.63,258.84 L372.03,258.79 L372.44,258.74 L372.84,258.70 L373.24,258.67 L373.64,258.65 L374.05,258.63 L374.45,258.62 L374.85,258.61 L375.25,258.62 L375.66,258.64 L376.06,258.66 L376.46,258.69 L376.86,258.73 L377.27,258.78 L377.67,258.84 L378.07,258.91 L378.47,258.98 L378.88,259.07 L379.28,259.16 L379.68,259.25 L380.08,259.35 L380.49,259.46 L380.89,259.57 L381.29,259.68 L381.69,259.80 L382.10,259.92 L382.50,260.05 L382.90,260.17 L383.30,260.30 L383.71,260.43 L384.11,260.56 L384.51,260.69 L384.91,260.82 L385.32,260.95 L385.72,261.07 L386.12,261.20 L386.52,261.33 L386.93,261.45 L387.33,261.57 L387.73,261.69 L388.13,261.81 L388.54,261.92 L388.94,262.04 L389.34,262.15 L389.74,262.25 L390.15,262.36 L390.55,262.46 L390.95,262.56 L391.35,262.66 L391.76,262.76 L392.16,262.85 L392.56,262.94 L392.96,263.03 L393.37,263.12 L393.77,263.20 L394.17,263.28 L394.57,263.36 L394.98,263.44 L395.38,263.51 L395.78,263.59 L396.18,263.66 L396.59,263.73 L396.99,263.79 L397.39,263.86 L397.79,263.92 L398.20,263.98 L398.60,264.04" fill="none" stroke="#9c1c1c" stroke-width="1.3"/>
<path d="M238.00,255.48 L238.40,255.35 L238.81,255.22 L239.21,255.09 L239.61,254.95 L240.01,254.81 L240.42,254.67 L240.82,254.52 L241.22,254.37 L241.62,254.22 L242.03,254.07 L242.43,253.91 L242.83,253.75 L243.23,253.59 L243.64,253.43 L244.04,253.26 L244.44,253.09 L244.84,252.92 L245.25,252.74 L245.65,252.56 L246.05,252.39 L246.45,252.20 L246.86,252.02 L247.26,251.84 L247.66,251.65 L248.06,251.46 L248.47,251.27 L248.87,251.08 L249.27,250.89 L249.67,250.70 L250.08,250.50 L250.48,250.31 L250.88,250.12 L251.28,249.93 L251.69,249.73 L252.09,249.54 L252.49,249.35 L252.89,249.17 L253.30,248.98 L253.70,248.79 L254.10,248.61 L254.50,248.43 L254.91,248.25 L255.31,248.07 L255.71,247.89 L256.11,247.72 L256.52,247.54 L256.92,247.37 L257.32,247.21 L257.72,247.04 L258.13,246.87 L258.53,246.71 L258.93,246.54 L259.33,246.38 L259.74,246.21 L260.14,246.04 L260.54,245.87 L260.94,245.70 L261.35,245.52 L261.75,245.34 L262.15,245.15 L262.55,244.95 L262.96,244.75 L263.36,244.53 L263.76,244.30 L264.16,244.06 L264.57,243.81 L264.97,243.54 L265.37,243.24 L265.77,242.93 L266.18,242.60 L266.58,242.23 L266.98,241.85 L267.38,241.43 L267.79,240.97 L268.19,240.48 L268.59,239.95 L268.99,239.38 L269.40,238.77 L269.80,238.10 L270.20,237.39 L270.60,236.62 L271.01,235.79 L271.41,234.90 L271.81,233.96 L272.21,232.95 L272.62,231.88 L273.02,230.75 L273.42,229.56 L273.82,228.32 L274.23,227.03 L274.63,225.71 L275.03,224.36 L275.43,223.02 L275.84,221.69 L276.24,220.40 L276.64,219.18 L277.04,218.06 L277.45,217.06 L277.85,216.23 L278.25,215.58 L278.65,215.14 L279.06,214.94 L279.46,214.96 L279.86,215.23 L280.26,215.73 L280.67,216.45 L281.07,217.37 L281.47,218.45 L281.87,219.67 L282.28,221.00 L282.68,222.41 L283.08,223.87 L283.48,225.35 L283.89,226.84 L284.29,228.31 L284.69,229.74 L285.09,231.14 L285.50,232.48 L285.90,233.77 L286.30,234.99 L286.70,236.15 L287.11,237.25 L287.51,238.29 L287.91,239.26 L288.31,240.17 L288.72,241.02 L289.12,241.82 L289.52,242.56 L289.92,243.25 L290.33,243.90 L290.73,244.50 L291.13,245.06 L291.53,245.57 L291.94,246.05 L292.34,246.50 L292.74,246.91 L293.14,247.29 L293.55,247.63 L293.95,247.95 L294.35,248.24 L294.75,248.51 L295.16,248.74 L295.56,248.96 L295.96,249.15 L296.36,249.32 L296.77,249.46 L297.17,249.58 L297.57,249.68 L297.97,249.76 L298.38,249.81 L298.78,249.84 L299.18,249.85 L299.58,249.83 L299.99,249.79 L300.39,249.72 L300.79,249.62 L301.19,249.49 L301.60,249.33 L302.00,249.14 L302.40,248.91 L302.80,248.64 L303.21,248.32 L303.61,247.96 L304.01,247.56 L304.41,247.10 L304.82,246.58 L305.22,246.00 L305.62,245.36 L306.02,244.65 L306.43,243.87 L306.83,243.01 L307.23,242.07 L307.63,241.04 L308.04,239.93 L308.44,238.73 L308.84,237.43 L309.24,236.03 L309.65,234.54 L310.05,232.95 L310.45,231.26 L310.85,229.47 L311.26,227.59 L311.66,225.62 L312.06,223.57 L312.46,221.44 L312.87,219.24 L313.27,217.00 L313.67,214.72 L314.07,212.43 L314.48,210.14 L314.88,207.90 L315.28,205.73 L315.68,203.66 L316.09,201.74 L316.49,200.01 L316.89,198.51 L317.29,197.28 L317.70,196.34 L318.10,195.74 L318.50,195.49 L318.90,195.54 L319.31,195.76 L319.71,196.12 L320.11,196.62 L320.51,197.26 L320.92,198.03 L321.32,198.93 L321.72,199.93 L322.12,201.03 L322.53,202.23 L322.93,203.50 L323.33,204.84 L323.73,206.23 L324.14,207.67 L324.54,209.15 L324.94,210.65 L325.34,212.17 L325.75,213.70 L326.15,215.24 L326.55,216.76 L326.95,218.28 L327.36,219.78 L327.76,221.26 L328.16,222.72 L328.56,224.15 L328.97,225.55 L329.37,226.91 L329.77,228.24 L330.17,229.54 L330.58,230.79 L330.98,232.01 L331.38,233.19 L331.78,234.32 L332.19,235.42 L332.59,236.47 L332.99,237.48 L333.39,238.45 L333.80,239.38 L334.20,240.28 L334.60,241.13 L335.00,241.94 L335.41,242.72 L335.81,243.45 L336.21,244.16 L336.61,244.82 L337.02,245.46 L337.42,246.06 L337.82,246.63 L338.22,247.17 L338.63,247.68 L339.03,248.16 L339.43,248.61 L339.83,249.04 L340.24,249.45 L340.64,249.83 L341.04,250.19 L341.44,250.53 L341.85,250.84 L342.25,251.14 L342.65,251.42 L343.05,251.69 L343.46,251.93 L343.86,252.17 L344.26,252.38 L344.66,252.59 L345.07,252.78 L345.47,252.96 L345.87,253.12 L346.27,253.28 L346.68,253.43 L347.08,253.56 L347.48,253.69 L347.88,253.81 L348.29,253.92 L348.69,254.02 L349.09,254.12 L349.49,254.21 L349.90,254.29 L350.30,254.36 L350.70,254.43 L351.10,254.50 L351.51,254.56 L351.91,254.61 L352.31,254.66 L352.71,254.70 L353.12,254.74 L353.52,254.78 L353.92,254.81 L354.32,254.83 L354.73,254.86 L355.13,254.88 L355.53,254.89 L355.93,254.90 L356.34,254.91 L356.74,254.91 L357.14,254.92 L357.54,254.91 L357.95,254.91 L358.35,254.90 L358.75,254.89 L359.15,254.88 L359.56,254.86 L359.96,254.84 L360.36,254.82 L360.76,254.80 L361.17,254.78 L361.57,254.75 L361.97,254.72 L362.37,254.69 L362.78,254.66 L363.18,254.62 L363.58,254.59 L363.98,254.55 L364.39,254.51 L364.79,254.48 L365.19,254.44 L365.59,254.40 L366.00,254.36 L366.40,254.32 L366.80,254.28 L367.20,254.24 L367.61,254.20 L368.01,254.17 L368.41,254.13 L368.81,254.10 L369.22,254.06 L369.62,254.03 L370.02,254.00 L370.42,253.97 L370.83,253.95 L371.23,253.93 L371.63,253.91 L372.03,253.89 L372.44,253.88 L372.84,253.87 L373.24,253.87 L373.64,253.86 L374.05,253.87 L374.45,253.87 L374.85,253.88 L375.25,253.90 L375.66,253.92 L376.06,253.94 L376.46,253.97 L376.86,254.00 L377.27,254.04 L377.67,254.08 L378.07,254.13 L378.47,254.18 L378.88,254.23 L379.28,254.29 L379.68,254.35 L380.08,254.42 L380.49,254.48 L380.89,254.56 L381.29,254.63 L381.69,254.71 L382.10,254.79 L382.50,254.88 L382.90,254.96 L383.30,255.05 L383.71,255.14 L384.11,255.23 L384.51,255.32 L384.91,255.42 L385.32,255.52 L385.72,255.61 L386.12,255.71 L386.52,255.81 L386.93,255.91 L387.33,256.00 L387.73,256.10 L388.13,256.20 L388.54,256.30 L388.94,256.40 L389.34,256.50 L389.74,256.59 L390.15,256.69 L390.55,256.78 L390.95,256.88 L391.35,256.97 L391.76,257.07 L392.16,257.16 L392.56,257.25 L392.96,257.34 L393.37,257.43 L393.77,257.51 L394.17,257.60 L394.57,257.69 L394.98,257.77 L395.38,257.85 L395.78,257.93 L396.18,258.01 L396.59,258.09 L396.99,258.17 L397.39,258.24 L397.79,258.31 L398.20,258.39 L398.60,258.46" fill="none" stroke="#d82a2a" stroke-width="1.3"/>
<path d="M238.00,250.61 L238.40,250.50 L238.81,250.40 L239.21,250.29 L239.61,250.17 L240.01,250.06 L240.42,249.94 L240.82,249.82 L241.22,249.69 L241.62,249.56 L242.03,249.43 L242.43,249.30 L242.83,249.16 L243.23,249.01 L243.64,248.87 L244.04,248.71 L244.44,248.56 L244.84,248.40 L245.25,248.24 L245.65,248.07 L246.05,247.90 L246.45,247.72 L246.86,247.54 L247.26,247.35 L247.66,247.16 L248.06,246.97 L248.47,246.77 L248.87,246.56 L249.27,246.35 L249.67,246.14 L250.08,245.92 L250.48,245.69 L250.88,245.46 L251.28,245.22 L251.69,244.98 L252.09,244.73 L252.49,244.47 L252.89,244.21 L253.30,243.95 L253.70,243.68 L254.10,243.40 L254.50,243.12 L254.91,242.83 L255.31,242.53 L255.71,242.23 L256.11,241.93 L256.52,241.62 L256.92,241.30 L257.32,240.98 L257.72,240.65 L258.13,240.32 L258.53,239.98 L258.93,239.64 L259.33,239.30 L259.74,238.94 L260.14,238.59 L260.54,238.23 L260.94,237.87 L261.35,237.50 L261.75,237.13 L262.15,236.75 L262.55,236.37 L262.96,235.99 L263.36,235.60 L263.76,235.21 L264.16,234.82 L264.57,234.42 L264.97,234.01 L265.37,233.60 L265.77,233.18 L266.18,232.76 L266.58,232.33 L266.98,231.88 L267.38,231.43 L267.79,230.96 L268.19,230.47 L268.59,229.97 L268.99,229.44 L269.40,228.88 L269.80,228.30 L270.20,227.68 L270.60,227.01 L271.01,226.30 L271.41,225.53 L271.81,224.70 L272.21,223.80 L272.62,222.81 L273.02,221.73 L273.42,220.54 L273.82,219.23 L274.23,217.80 L274.63,216.22 L275.03,214.50 L275.43,212.62 L275.84,210.59 L276.24,208.41 L276.64,206.11 L277.04,203.73 L277.45,201.31 L277.85,198.95 L278.25,196.74 L278.65,194.79 L279.06,193.23 L279.46,192.18 L279.86,191.73 L280.26,191.93 L280.67,192.79 L281.07,194.26 L281.47,196.23 L281.87,198.61 L282.28,201.26 L282.68,204.06 L283.08,206.91 L283.48,209.73 L283.89,212.46 L284.29,215.06 L284.69,217.50 L285.09,219.78 L285.50,221.88 L285.90,223.82 L286.30,225.61 L286.70,227.24 L287.11,228.74 L287.51,230.11 L287.91,231.37 L288.31,232.53 L288.72,233.59 L289.12,234.56 L289.52,235.46 L289.92,236.28 L290.33,237.04 L290.73,237.74 L291.13,238.39 L291.53,238.99 L291.94,239.55 L292.34,240.06 L292.74,240.54 L293.14,240.98 L293.55,241.39 L293.95,241.76 L294.35,242.11 L294.75,242.43 L295.16,242.72 L295.56,242.98 L295.96,243.22 L296.36,243.44 L296.77,243.63 L297.17,243.79 L297.57,243.93 L297.97,244.05 L298.38,244.13 L298.78,244.19 L299.18,244.22 L299.58,244.22 L299.99,244.18 L300.39,244.11 L300.79,243.99 L301.19,243.83 L301.60,243.63 L302.00,243.37 L302.40,243.06 L302.80,242.69 L303.21,242.25 L303.61,241.74 L304.01,241.15 L304.41,240.48 L304.82,239.71 L305.22,238.86 L305.62,237.90 L306.02,236.83 L306.43,235.65 L306.83,234.36 L307.23,232.94 L307.63,231.40 L308.04,229.74 L308.44,227.94 L308.84,226.03 L309.24,223.99 L309.65,221.83 L310.05,219.55 L310.45,217.17 L310.85,214.69 L311.26,212.13 L311.66,209.50 L312.06,206.82 L312.46,204.11 L312.87,201.39 L313.27,198.69 L313.67,196.04 L314.07,193.48 L314.48,191.04 L314.88,188.76 L315.28,186.68 L315.68,184.85 L316.09,183.30 L316.49,182.07 L316.89,181.19 L317.29,180.69 L317.70,180.58 L318.10,180.72 L318.50,180.99 L318.90,181.40 L319.31,181.94 L319.71,182.62 L320.11,183.42 L320.51,184.34 L320.92,185.37 L321.32,186.49 L321.72,187.72 L322.12,189.03 L322.53,190.41 L322.93,191.86 L323.33,193.37 L323.73,194.92 L324.14,196.52 L324.54,198.15 L324.94,199.81 L325.34,201.48 L325.75,203.17 L326.15,204.86 L326.55,206.55 L326.95,208.23 L327.36,209.90 L327.76,211.56 L328.16,213.20 L328.56,214.81 L328.97,216.39 L329.37,217.95 L329.77,219.47 L330.17,220.95 L330.58,222.40 L330.98,223.81 L331.38,225.17 L331.78,226.50 L332.19,227.78 L332.59,229.01 L332.99,230.20 L333.39,231.35 L333.80,232.45 L334.20,233.50 L334.60,234.51 L335.00,235.48 L335.41,236.40 L335.81,237.27 L336.21,238.10 L336.61,238.89 L337.02,239.64 L337.42,240.35 L337.82,241.02 L338.22,241.66 L338.63,242.25 L339.03,242.81 L339.43,243.34 L339.83,243.83 L340.24,244.29 L340.64,244.73 L341.04,245.13 L341.44,245.51 L341.85,245.86 L342.25,246.18 L342.65,246.49 L343.05,246.76 L343.46,247.02 L343.86,247.26 L344.26,247.48 L344.66,247.69 L345.07,247.87 L345.47,248.04 L345.87,248.20 L346.27,248.34 L346.68,248.47 L347.08,248.59 L347.48,248.69 L347.88,248.79 L348.29,248.87 L348.69,248.95 L349.09,249.01 L349.49,249.07 L349.90,249.12 L350.30,249.17 L350.70,249.21 L351.10,249.24 L351.51,249.26 L351.91,249.28 L352.31,249.30 L352.71,249.31 L353.12,249.31 L353.52,249.31 L353.92,249.31 L354.32,249.30 L354.73,249.29 L355.13,249.28 L355.53,249.26 L355.93,249.24 L356.34,249.22 L356.74,249.19 L357.14,249.17 L357.54,249.14 L357.95,249.11 L358.35,249.07 L358.75,249.04 L359.15,249.00 L359.56,248.96 L359.96,248.93 L360.36,248.89 L360.76,248.84 L361.17,248.80 L361.57,248.76 L361.97,248.72 L362.37,248.68 L362.78,248.63 L363.18,248.59 L363.58,248.55 L363.98,248.51 L364.39,248.47 L364.79,248.43 L365.19,248.39 L365.59,248.35 L366.00,248.31 L366.40,248.27 L366.80,248.24 L367.20,248.21 L367.61,248.17 L368.01,248.15 L368.41,248.12 L368.81,248.09 L369.22,248.07 L369.62,248.05 L370.02,248.03 L370.42,248.02 L370.83,248.01 L371.23,248.00 L371.63,247.99 L372.03,247.99 L372.44,247.99 L372.84,248.00 L373.24,248.00 L373.64,248.02 L374.05,248.03 L374.45,248.05 L374.85,248.07 L375.25,248.10 L375.66,248.13 L376.06,248.16 L376.46,248.20 L376.86,248.25 L377.27,248.29 L377.67,248.34 L378.07,248.40 L378.47,248.45 L378.88,248.51 L379.28,248.58 L379.68,248.65 L380.08,248.72 L380.49,248.80 L380.89,248.88 L381.29,248.96 L381.69,249.05 L382.10,249.13 L382.50,249.23 L382.90,249.32 L383.30,249.42 L383.71,249.52 L384.11,249.62 L384.51,249.73 L384.91,249.84 L385.32,249.95 L385.72,250.06 L386.12,250.18 L386.52,250.29 L386.93,250.41 L387.33,250.53 L387.73,250.65 L388.13,250.77 L388.54,250.89 L388.94,251.02 L389.34,251.14 L389.74,251.27 L390.15,251.40 L390.55,251.53 L390.95,251.65 L391.35,251.78 L391.76,251.91 L392.16,252.04 L392.56,252.17 L392.96,252.30 L393.37,252.43 L393.77,252.55 L394.17,252.68 L394.57,252.81 L394.98,252.94 L395.38,253.07 L395.78,253.19 L396.18,253.32 L396.59,253.44 L396.99,253.57 L397.39,253.69 L397.79,253.82 L398.20,253.94 L398.60,254.06" fill="none" stroke="#ff2a2a" stroke-width="1.3"/>
</svg></body></html>
